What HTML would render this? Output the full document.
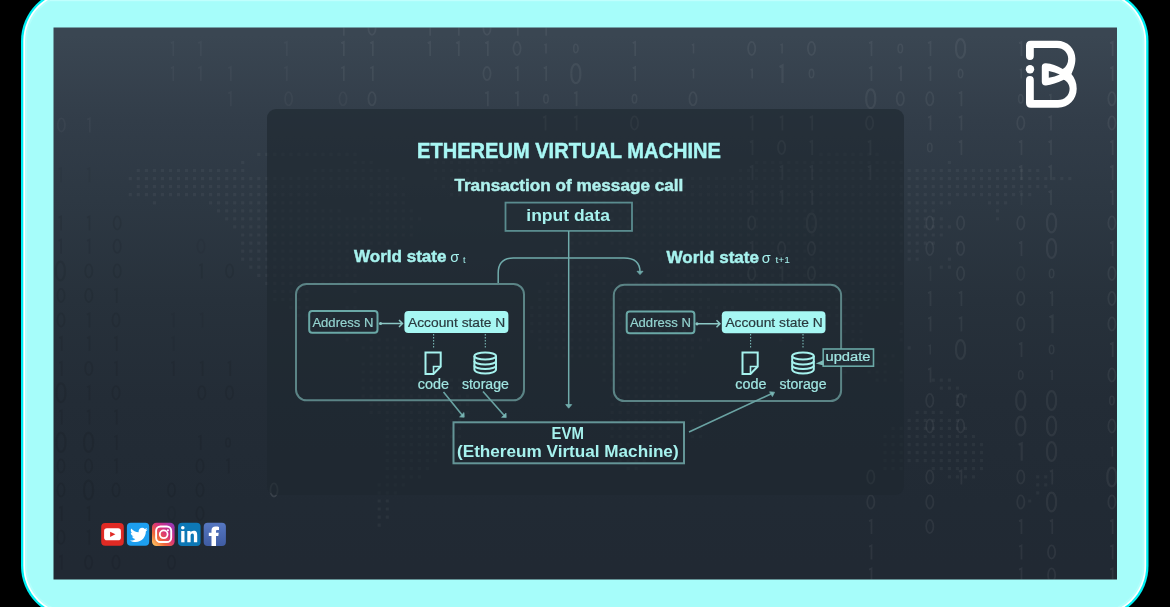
<!DOCTYPE html>
<html><head><meta charset="utf-8">
<style>
html,body{margin:0;padding:0;background:#000;width:1170px;height:607px;overflow:hidden;}
svg{display:block;position:absolute;left:0;top:0;will-change:transform;}
text{font-family:"Liberation Sans",sans-serif;}
</style></head>
<body>
<svg width="1170" height="607" viewBox="0 0 1170 607">
<defs>
  <linearGradient id="pg" x1="0" y1="0" x2="0" y2="1">
    <stop offset="0.0136" stop-color="#3a4652"/>
    <stop offset="0.168" stop-color="#323d49"/>
    <stop offset="0.3125" stop-color="#2d3843"/>
    <stop offset="0.494" stop-color="#27313b"/>
    <stop offset="0.675" stop-color="#232c36"/>
    <stop offset="0.865" stop-color="#212a34"/>
    <stop offset="0.974" stop-color="#212933"/>
  </linearGradient>
</defs>
<!-- frame -->
<rect x="21" y="-11" width="1127.5" height="629" rx="52" fill="#00eef2"/>
<rect x="23.3" y="-8.7" width="1122.9" height="624.4" rx="49.7" fill="#ffffff"/>
<rect x="25" y="-7" width="1119.5" height="621" rx="48" fill="#b2fffc"/>
<rect x="27" y="-5" width="1115.5" height="617" rx="46" fill="#a6fdfa"/>
<rect x="50" y="0" width="1070" height="1.2" fill="#c0fffd"/>
<!-- panel -->
<rect x="53.5" y="27.5" width="1063.5" height="552" fill="url(#pg)"/>
<g id="bgtex">
<clipPath id="pc"><rect x="53.5" y="27.5" width="1063.5" height="552"/></clipPath>
<g clip-path="url(#pc)">
<path fill="none" stroke="#fff" stroke-opacity="0.110" stroke-width="1.80" d="M867.2 477.0a3.6 6.6 0 1 0 7.2 0a3.6 6.6 0 1 0 -7.2 0M270.4 490.0a3.6 6.6 0 1 0 7.2 0a3.6 6.6 0 1 0 -7.2 0M749.9 117.6L752.5 116.4V130.5M779.8 117.6L782.4 116.4V130.5M809.7 117.6L812.2 116.4V130.5M866.0 123.0a3.6 6.6 0 1 0 7.2 0a3.6 6.6 0 1 0 -7.2 0M543.0 117.6L545.5 116.4V130.5M574.1 117.6L576.6 116.4V130.5M630.9 123.0a3.6 6.6 0 1 0 7.2 0a3.6 6.6 0 1 0 -7.2 0M749.9 142.1L752.5 140.9V155.0M778.0 147.5a3.6 6.6 0 1 0 7.2 0a3.6 6.6 0 1 0 -7.2 0M809.7 142.1L812.2 140.9V155.0M867.8 142.1L870.4 140.9V155.0M778.0 147.5a3.6 6.6 0 1 0 7.2 0a3.6 6.6 0 1 0 -7.2 0M809.7 142.1L812.2 140.9V155.0M749.9 167.1L752.5 165.9V180.0M779.8 167.1L782.4 165.9V180.0M809.7 167.1L812.2 165.9V180.0M867.8 167.1L870.4 165.9V180.0M749.9 192.1L752.5 190.9V205.0M779.8 192.1L782.4 190.9V205.0M809.7 192.1L812.2 190.9V205.0M748.1 223.0a3.6 6.6 0 1 0 7.2 0a3.6 6.6 0 1 0 -7.2 0M749.9 243.1L752.5 241.9V256.0M778.0 248.5a3.6 6.6 0 1 0 7.2 0a3.6 6.6 0 1 0 -7.2 0M807.9 248.5a3.6 6.6 0 1 0 7.2 0a3.6 6.6 0 1 0 -7.2 0M748.1 273.5a3.6 6.6 0 1 0 7.2 0a3.6 6.6 0 1 0 -7.2 0M779.8 268.1L782.4 266.9V281.0M807.9 273.5a3.6 6.6 0 1 0 7.2 0a3.6 6.6 0 1 0 -7.2 0"/>
<path fill="none" stroke="#fff" stroke-opacity="0.110" stroke-width="2.23" d="M807.0 223.0a4.5 8.2 0 1 0 8.9 0a4.5 8.2 0 1 0 -8.9 0"/>
<path fill="none" stroke="#fff" stroke-opacity="0.060" stroke-width="1.80" d="M341.2 22.8L343.8 21.6V35.7M368.4 28.2a3.6 6.6 0 1 0 7.2 0a3.6 6.6 0 1 0 -7.2 0M427.7 22.8L430.2 21.6V35.7M456.2 22.8L458.8 21.6V35.7M483.4 28.2a3.6 6.6 0 1 0 7.2 0a3.6 6.6 0 1 0 -7.2 0M515.2 22.8L517.8 21.6V35.7M543.7 22.8L546.2 21.6V35.7M341.2 43.1L343.8 41.9V56.0M370.2 43.1L372.8 41.9V56.0M427.7 43.1L430.2 41.9V56.0M456.2 43.1L458.8 41.9V56.0M485.2 43.1L487.8 41.9V56.0M513.4 48.5a3.6 6.6 0 1 0 7.2 0a3.6 6.6 0 1 0 -7.2 0M632.7 43.1L635.2 41.9V56.0M748.1 48.5a3.6 6.6 0 1 0 7.2 0a3.6 6.6 0 1 0 -7.2 0M807.9 48.5a3.6 6.6 0 1 0 7.2 0a3.6 6.6 0 1 0 -7.2 0M869.0 43.1L871.5 41.9V56.0M928.0 43.1L930.5 41.9V56.0M1019.0 43.1L1021.5 41.9V56.0M1110.1 43.1L1112.7 41.9V56.0M341.2 68.2L343.8 67.0V81.1M370.2 68.2L372.8 67.0V81.1M483.4 73.6a3.6 6.6 0 1 0 7.2 0a3.6 6.6 0 1 0 -7.2 0M515.2 68.2L517.8 67.0V81.1M543.7 68.2L546.2 67.0V81.1M632.7 68.2L635.2 67.0V81.1M869.0 68.2L871.5 67.0V81.1M898.5 68.2L901.0 67.0V81.1M928.0 68.2L930.5 67.0V81.1M1110.1 68.2L1112.7 67.0V81.1M368.4 98.8a3.6 6.6 0 1 0 7.2 0a3.6 6.6 0 1 0 -7.2 0M485.2 93.4L487.8 92.2V106.3M515.2 93.4L517.8 92.2V106.3M574.1 93.4L576.6 92.2V106.3M689.4 98.8a3.6 6.6 0 1 0 7.2 0a3.6 6.6 0 1 0 -7.2 0M896.7 98.8a3.6 6.6 0 1 0 7.2 0a3.6 6.6 0 1 0 -7.2 0M926.2 98.8a3.6 6.6 0 1 0 7.2 0a3.6 6.6 0 1 0 -7.2 0M958.8 93.4L961.4 92.2V106.3M1108.3 98.8a3.6 6.6 0 1 0 7.2 0a3.6 6.6 0 1 0 -7.2 0M928.0 117.6L930.5 116.4V130.5M958.8 117.6L961.4 116.4V130.5M1017.2 123.0a3.6 6.6 0 1 0 7.2 0a3.6 6.6 0 1 0 -7.2 0M1048.5 117.6L1051.0 116.4V130.5M1108.3 123.0a3.6 6.6 0 1 0 7.2 0a3.6 6.6 0 1 0 -7.2 0M958.8 142.1L961.4 140.9V155.0M1019.0 142.1L1021.5 140.9V155.0M1048.5 142.1L1051.0 140.9V155.0M1110.1 142.1L1112.7 140.9V155.0M1019.0 167.1L1021.5 165.9V180.0M1048.5 167.1L1051.0 165.9V180.0M1110.1 167.1L1112.7 165.9V180.0M1048.5 192.1L1051.0 190.9V205.0M1110.1 192.1L1112.7 190.9V205.0M926.2 223.0a3.6 6.6 0 1 0 7.2 0a3.6 6.6 0 1 0 -7.2 0M957.0 223.0a3.6 6.6 0 1 0 7.2 0a3.6 6.6 0 1 0 -7.2 0M1017.2 223.0a3.6 6.6 0 1 0 7.2 0a3.6 6.6 0 1 0 -7.2 0M1108.3 223.0a3.6 6.6 0 1 0 7.2 0a3.6 6.6 0 1 0 -7.2 0M926.2 248.5a3.6 6.6 0 1 0 7.2 0a3.6 6.6 0 1 0 -7.2 0M957.0 248.5a3.6 6.6 0 1 0 7.2 0a3.6 6.6 0 1 0 -7.2 0M1019.0 243.1L1021.5 241.9V256.0M1110.1 243.1L1112.7 241.9V256.0M957.0 273.5a3.6 6.6 0 1 0 7.2 0a3.6 6.6 0 1 0 -7.2 0M1108.3 273.5a3.6 6.6 0 1 0 7.2 0a3.6 6.6 0 1 0 -7.2 0M928.0 293.1L930.5 291.9V306.0M958.8 293.1L961.4 291.9V306.0M1017.2 298.5a3.6 6.6 0 1 0 7.2 0a3.6 6.6 0 1 0 -7.2 0M1049.8 293.1L1052.3 291.9V306.0M1108.3 298.5a3.6 6.6 0 1 0 7.2 0a3.6 6.6 0 1 0 -7.2 0M928.0 318.6L930.5 317.4V331.5M958.8 318.6L961.4 317.4V331.5M1017.2 324.0a3.6 6.6 0 1 0 7.2 0a3.6 6.6 0 1 0 -7.2 0M1108.3 324.0a3.6 6.6 0 1 0 7.2 0a3.6 6.6 0 1 0 -7.2 0M1019.0 344.1L1021.5 342.9V357.0M1110.1 344.1L1112.7 342.9V357.0M928.0 369.6L930.5 368.4V382.5M1108.3 375.0a3.6 6.6 0 1 0 7.2 0a3.6 6.6 0 1 0 -7.2 0M926.2 400.5a3.6 6.6 0 1 0 7.2 0a3.6 6.6 0 1 0 -7.2 0M957.0 400.5a3.6 6.6 0 1 0 7.2 0a3.6 6.6 0 1 0 -7.2 0M926.2 426.0a3.6 6.6 0 1 0 7.2 0a3.6 6.6 0 1 0 -7.2 0M957.0 426.0a3.6 6.6 0 1 0 7.2 0a3.6 6.6 0 1 0 -7.2 0M1108.3 426.0a3.6 6.6 0 1 0 7.2 0a3.6 6.6 0 1 0 -7.2 0M926.2 477.0a3.6 6.6 0 1 0 7.2 0a3.6 6.6 0 1 0 -7.2 0M958.8 471.6L961.4 470.4V484.5M1017.2 477.0a3.6 6.6 0 1 0 7.2 0a3.6 6.6 0 1 0 -7.2 0M1049.8 471.6L1052.3 470.4V484.5M867.2 502.0a3.6 6.6 0 1 0 7.2 0a3.6 6.6 0 1 0 -7.2 0M926.2 502.0a3.6 6.6 0 1 0 7.2 0a3.6 6.6 0 1 0 -7.2 0M1017.2 502.0a3.6 6.6 0 1 0 7.2 0a3.6 6.6 0 1 0 -7.2 0M1108.3 502.0a3.6 6.6 0 1 0 7.2 0a3.6 6.6 0 1 0 -7.2 0M869.0 521.1L871.5 519.9V534.0M926.2 526.5a3.6 6.6 0 1 0 7.2 0a3.6 6.6 0 1 0 -7.2 0M1019.0 521.1L1021.5 519.9V534.0M1049.8 521.1L1052.3 519.9V534.0M1110.1 521.1L1112.7 519.9V534.0M869.0 546.6L871.5 545.4V559.5M1019.0 546.6L1021.5 545.4V559.5M1048.0 552.0a3.6 6.6 0 1 0 7.2 0a3.6 6.6 0 1 0 -7.2 0M1110.1 546.6L1112.7 545.4V559.5M869.0 569.6L871.5 568.4V582.5M1019.0 569.6L1021.5 568.4V582.5M1048.0 575.0a3.6 6.6 0 1 0 7.2 0a3.6 6.6 0 1 0 -7.2 0M1110.1 569.6L1112.7 568.4V582.5"/>
<path fill="none" stroke="#fff" stroke-opacity="0.060" stroke-width="1.60" d="M544.3 44.9L546.0 44.3V53.5M573.7 48.5a2.2 4.2 0 1 0 4.4 0a2.2 4.2 0 1 0 -4.4 0M691.8 44.9L693.5 44.3V53.5M780.4 44.9L782.1 44.3V53.5M898.1 48.5a2.2 4.2 0 1 0 4.4 0a2.2 4.2 0 1 0 -4.4 0M691.8 70.0L693.5 69.4V78.6M750.5 70.0L752.2 69.4V78.6M809.3 73.6a2.2 4.2 0 1 0 4.4 0a2.2 4.2 0 1 0 -4.4 0M958.4 73.6a2.2 4.2 0 1 0 4.4 0a2.2 4.2 0 1 0 -4.4 0M1019.6 70.0L1021.3 69.4V78.6M543.8 98.8a2.2 4.2 0 1 0 4.4 0a2.2 4.2 0 1 0 -4.4 0M632.3 98.8a2.2 4.2 0 1 0 4.4 0a2.2 4.2 0 1 0 -4.4 0M1018.6 98.8a2.2 4.2 0 1 0 4.4 0a2.2 4.2 0 1 0 -4.4 0M1049.1 95.2L1050.8 94.6V103.8M927.6 147.5a2.2 4.2 0 1 0 4.4 0a2.2 4.2 0 1 0 -4.4 0M1049.4 273.5a2.2 4.2 0 1 0 4.4 0a2.2 4.2 0 1 0 -4.4 0M928.6 345.9L930.3 345.3V354.5M1049.4 349.5a2.2 4.2 0 1 0 4.4 0a2.2 4.2 0 1 0 -4.4 0M1018.6 375.0a2.2 4.2 0 1 0 4.4 0a2.2 4.2 0 1 0 -4.4 0M1050.4 371.4L1052.1 370.8V380.0M1109.7 400.5a2.2 4.2 0 1 0 4.4 0a2.2 4.2 0 1 0 -4.4 0M1110.7 447.9L1112.4 447.3V456.5"/>
<path fill="none" stroke="#fff" stroke-opacity="0.060" stroke-width="2.23" d="M956.1 48.5a4.5 8.2 0 1 0 8.9 0a4.5 8.2 0 1 0 -8.9 0M571.4 73.6a4.5 8.2 0 1 0 8.9 0a4.5 8.2 0 1 0 -8.9 0M779.4 66.9L782.5 65.4V82.9M866.3 98.8a4.5 8.2 0 1 0 8.9 0a4.5 8.2 0 1 0 -8.9 0M1047.1 223.0a4.5 8.2 0 1 0 8.9 0a4.5 8.2 0 1 0 -8.9 0M1047.1 248.5a4.5 8.2 0 1 0 8.9 0a4.5 8.2 0 1 0 -8.9 0M1049.4 317.3L1052.5 315.8V333.3M956.1 349.5a4.5 8.2 0 1 0 8.9 0a4.5 8.2 0 1 0 -8.9 0M1016.3 400.5a4.5 8.2 0 1 0 8.9 0a4.5 8.2 0 1 0 -8.9 0M1047.1 400.5a4.5 8.2 0 1 0 8.9 0a4.5 8.2 0 1 0 -8.9 0M1016.3 426.0a4.5 8.2 0 1 0 8.9 0a4.5 8.2 0 1 0 -8.9 0M1047.1 426.0a4.5 8.2 0 1 0 8.9 0a4.5 8.2 0 1 0 -8.9 0M1018.6 444.8L1021.7 443.3V460.8M1047.1 451.5a4.5 8.2 0 1 0 8.9 0a4.5 8.2 0 1 0 -8.9 0M1107.4 477.0a4.5 8.2 0 1 0 8.9 0a4.5 8.2 0 1 0 -8.9 0M1047.1 502.0a4.5 8.2 0 1 0 8.9 0a4.5 8.2 0 1 0 -8.9 0"/>
<path fill="none" stroke="#fff" stroke-opacity="0.035" stroke-width="1.80" d="M284.2 43.1L286.8 41.9V56.0M170.8 43.1L173.3 41.9V56.0M198.2 43.1L200.8 41.9V56.0M284.2 68.2L286.8 67.0V81.1M170.8 68.2L173.3 67.0V81.1M198.2 68.2L200.8 67.0V81.1M228.2 68.2L230.8 67.0V81.1M285.0 98.8a3.6 6.6 0 1 0 7.2 0a3.6 6.6 0 1 0 -7.2 0M339.4 98.8a3.6 6.6 0 1 0 7.2 0a3.6 6.6 0 1 0 -7.2 0M228.2 93.4L230.8 92.2V106.3M57.8 125.0a3.6 6.6 0 1 0 7.2 0a3.6 6.6 0 1 0 -7.2 0M87.2 119.6L89.8 118.4V132.5M1019.0 192.1L1021.5 190.9V205.0M928.0 268.1L930.5 266.9V281.0M1017.2 273.5a3.6 6.6 0 1 0 7.2 0a3.6 6.6 0 1 0 -7.2 0"/>
<path fill="none" stroke="#000" stroke-opacity="0.080" stroke-width="1.80" d="M58.6 217.6L61.1 216.4V230.5M87.0 217.6L89.5 216.4V230.5M113.6 223.0a3.6 6.6 0 1 0 7.2 0a3.6 6.6 0 1 0 -7.2 0M58.6 240.9L61.1 239.7V253.8M87.0 240.9L89.5 239.7V253.8M113.6 246.3a3.6 6.6 0 1 0 7.2 0a3.6 6.6 0 1 0 -7.2 0M85.2 271.0a3.6 6.6 0 1 0 7.2 0a3.6 6.6 0 1 0 -7.2 0M113.6 271.0a3.6 6.6 0 1 0 7.2 0a3.6 6.6 0 1 0 -7.2 0M199.2 265.6L201.8 264.4V278.5M226.0 271.0a3.6 6.6 0 1 0 7.2 0a3.6 6.6 0 1 0 -7.2 0M57.4 295.5a3.6 6.6 0 1 0 7.2 0a3.6 6.6 0 1 0 -7.2 0M85.2 295.5a3.6 6.6 0 1 0 7.2 0a3.6 6.6 0 1 0 -7.2 0M114.2 290.1L116.8 288.9V303.0M57.4 320.0a3.6 6.6 0 1 0 7.2 0a3.6 6.6 0 1 0 -7.2 0M87.0 314.6L89.5 313.4V327.5M112.4 320.0a3.6 6.6 0 1 0 7.2 0a3.6 6.6 0 1 0 -7.2 0M59.2 338.1L61.8 336.9V351.0M87.0 338.1L89.5 336.9V351.0M114.2 338.1L116.8 336.9V351.0M59.2 363.0L61.8 361.8V375.9M85.2 368.4a3.6 6.6 0 1 0 7.2 0a3.6 6.6 0 1 0 -7.2 0M114.2 363.0L116.8 361.8V375.9M171.2 363.0L173.8 361.8V375.9M200.0 363.0L202.6 361.8V375.9M227.7 363.0L230.2 361.8V375.9M87.0 387.3L89.5 386.1V400.2M112.4 392.7a3.6 6.6 0 1 0 7.2 0a3.6 6.6 0 1 0 -7.2 0M198.2 392.7a3.6 6.6 0 1 0 7.2 0a3.6 6.6 0 1 0 -7.2 0M225.9 392.7a3.6 6.6 0 1 0 7.2 0a3.6 6.6 0 1 0 -7.2 0M59.2 411.6L61.8 410.4V424.5M87.0 411.6L89.5 410.4V424.5M114.2 411.6L116.8 410.4V424.5M114.2 437.0L116.8 435.8V449.9M198.2 437.0L200.8 435.8V449.9M57.4 466.0a3.6 6.6 0 1 0 7.2 0a3.6 6.6 0 1 0 -7.2 0M85.0 466.0a3.6 6.6 0 1 0 7.2 0a3.6 6.6 0 1 0 -7.2 0M114.2 460.6L116.8 459.4V473.5M196.4 466.0a3.6 6.6 0 1 0 7.2 0a3.6 6.6 0 1 0 -7.2 0M226.2 460.6L228.8 459.4V473.5M57.4 490.0a3.6 6.6 0 1 0 7.2 0a3.6 6.6 0 1 0 -7.2 0M112.4 490.0a3.6 6.6 0 1 0 7.2 0a3.6 6.6 0 1 0 -7.2 0M167.9 490.0a3.6 6.6 0 1 0 7.2 0a3.6 6.6 0 1 0 -7.2 0M196.4 490.0a3.6 6.6 0 1 0 7.2 0a3.6 6.6 0 1 0 -7.2 0M59.2 508.1L61.8 506.9V521.0M86.8 508.1L89.3 506.9V521.0M196.4 513.5a3.6 6.6 0 1 0 7.2 0a3.6 6.6 0 1 0 -7.2 0M57.4 537.2a3.6 6.6 0 1 0 7.2 0a3.6 6.6 0 1 0 -7.2 0M86.8 531.8L89.3 530.6V544.7M59.2 556.9L61.8 555.7V569.8M85.0 562.3a3.6 6.6 0 1 0 7.2 0a3.6 6.6 0 1 0 -7.2 0M112.4 562.3a3.6 6.6 0 1 0 7.2 0a3.6 6.6 0 1 0 -7.2 0M167.9 562.3a3.6 6.6 0 1 0 7.2 0a3.6 6.6 0 1 0 -7.2 0"/>
<path fill="none" stroke="#000" stroke-opacity="0.080" stroke-width="2.23" d="M55.9 271.0a4.5 8.2 0 1 0 8.9 0a4.5 8.2 0 1 0 -8.9 0M56.5 392.7a4.5 8.2 0 1 0 8.9 0a4.5 8.2 0 1 0 -8.9 0M56.5 442.4a4.5 8.2 0 1 0 8.9 0a4.5 8.2 0 1 0 -8.9 0M84.1 442.4a4.5 8.2 0 1 0 8.9 0a4.5 8.2 0 1 0 -8.9 0M84.1 490.0a4.5 8.2 0 1 0 8.9 0a4.5 8.2 0 1 0 -8.9 0"/>
<path fill="none" stroke="#000" stroke-opacity="0.080" stroke-width="1.60" d="M225.8 442.4a2.2 4.2 0 1 0 4.4 0a2.2 4.2 0 1 0 -4.4 0"/>
<path fill="none" stroke="#000" stroke-opacity="0.045" stroke-width="1.80" d="M58.6 169.3L61.1 168.1V182.2M87.0 169.3L89.5 168.1V182.2M197.4 246.3a3.6 6.6 0 1 0 7.2 0a3.6 6.6 0 1 0 -7.2 0M171.2 314.6L173.8 313.4V327.5M200.0 314.6L202.6 313.4V327.5M171.2 338.1L173.8 336.9V351.0M167.9 513.5a3.6 6.6 0 1 0 7.2 0a3.6 6.6 0 1 0 -7.2 0"/>
</g>
<path fill="#fff" fill-opacity="0.045" d="M257.2 152.8h3.2v3.2h-3.2zM265.2 152.8h3.2v3.2h-3.2zM273.2 152.8h3.2v3.2h-3.2zM281.3 152.8h3.2v3.2h-3.2zM289.3 152.8h3.2v3.2h-3.2zM297.3 152.8h3.2v3.2h-3.2zM305.4 152.8h3.2v3.2h-3.2zM313.4 152.8h3.2v3.2h-3.2zM321.4 152.8h3.2v3.2h-3.2zM329.4 152.8h3.2v3.2h-3.2zM337.5 152.8h3.2v3.2h-3.2zM345.5 152.8h3.2v3.2h-3.2zM353.5 152.8h3.2v3.2h-3.2zM417.8 152.8h3.2v3.2h-3.2zM425.8 152.8h3.2v3.2h-3.2zM433.8 152.8h3.2v3.2h-3.2zM441.9 152.8h3.2v3.2h-3.2zM449.9 152.8h3.2v3.2h-3.2zM457.9 152.8h3.2v3.2h-3.2zM466.0 152.8h3.2v3.2h-3.2zM474.0 152.8h3.2v3.2h-3.2zM482.0 152.8h3.2v3.2h-3.2zM490.0 152.8h3.2v3.2h-3.2zM498.1 152.8h3.2v3.2h-3.2zM506.1 152.8h3.2v3.2h-3.2zM514.1 152.8h3.2v3.2h-3.2zM522.2 152.8h3.2v3.2h-3.2zM819.3 152.8h3.2v3.2h-3.2zM827.3 152.8h3.2v3.2h-3.2zM835.3 152.8h3.2v3.2h-3.2zM843.4 152.8h3.2v3.2h-3.2zM851.4 152.8h3.2v3.2h-3.2zM859.4 152.8h3.2v3.2h-3.2zM867.5 152.8h3.2v3.2h-3.2zM875.5 152.8h3.2v3.2h-3.2zM241.1 160.9h3.2v3.2h-3.2zM353.5 160.9h3.2v3.2h-3.2zM361.6 160.9h3.2v3.2h-3.2zM369.6 160.9h3.2v3.2h-3.2zM425.8 160.9h3.2v3.2h-3.2zM433.8 160.9h3.2v3.2h-3.2zM441.9 160.9h3.2v3.2h-3.2zM449.9 160.9h3.2v3.2h-3.2zM457.9 160.9h3.2v3.2h-3.2zM466.0 160.9h3.2v3.2h-3.2zM474.0 160.9h3.2v3.2h-3.2zM482.0 160.9h3.2v3.2h-3.2zM490.0 160.9h3.2v3.2h-3.2zM498.1 160.9h3.2v3.2h-3.2zM506.1 160.9h3.2v3.2h-3.2zM514.1 160.9h3.2v3.2h-3.2zM755.0 160.9h3.2v3.2h-3.2zM763.1 160.9h3.2v3.2h-3.2zM771.1 160.9h3.2v3.2h-3.2zM779.1 160.9h3.2v3.2h-3.2zM787.2 160.9h3.2v3.2h-3.2zM795.2 160.9h3.2v3.2h-3.2zM803.2 160.9h3.2v3.2h-3.2zM811.2 160.9h3.2v3.2h-3.2zM819.3 160.9h3.2v3.2h-3.2zM827.3 160.9h3.2v3.2h-3.2zM835.3 160.9h3.2v3.2h-3.2zM843.4 160.9h3.2v3.2h-3.2zM851.4 160.9h3.2v3.2h-3.2zM859.4 160.9h3.2v3.2h-3.2zM867.5 160.9h3.2v3.2h-3.2zM875.5 160.9h3.2v3.2h-3.2zM883.5 160.9h3.2v3.2h-3.2zM891.5 160.9h3.2v3.2h-3.2zM899.6 160.9h3.2v3.2h-3.2zM947.8 160.9h3.2v3.2h-3.2zM136.7 168.9h3.2v3.2h-3.2zM144.8 168.9h3.2v3.2h-3.2zM152.8 168.9h3.2v3.2h-3.2zM160.8 168.9h3.2v3.2h-3.2zM168.9 168.9h3.2v3.2h-3.2zM176.9 168.9h3.2v3.2h-3.2zM184.9 168.9h3.2v3.2h-3.2zM192.9 168.9h3.2v3.2h-3.2zM201.0 168.9h3.2v3.2h-3.2zM209.0 168.9h3.2v3.2h-3.2zM217.0 168.9h3.2v3.2h-3.2zM225.1 168.9h3.2v3.2h-3.2zM233.1 168.9h3.2v3.2h-3.2zM241.1 168.9h3.2v3.2h-3.2zM313.4 168.9h3.2v3.2h-3.2zM321.4 168.9h3.2v3.2h-3.2zM329.4 168.9h3.2v3.2h-3.2zM337.5 168.9h3.2v3.2h-3.2zM345.5 168.9h3.2v3.2h-3.2zM353.5 168.9h3.2v3.2h-3.2zM361.6 168.9h3.2v3.2h-3.2zM369.6 168.9h3.2v3.2h-3.2zM377.6 168.9h3.2v3.2h-3.2zM385.7 168.9h3.2v3.2h-3.2zM433.8 168.9h3.2v3.2h-3.2zM441.9 168.9h3.2v3.2h-3.2zM449.9 168.9h3.2v3.2h-3.2zM457.9 168.9h3.2v3.2h-3.2zM466.0 168.9h3.2v3.2h-3.2zM474.0 168.9h3.2v3.2h-3.2zM482.0 168.9h3.2v3.2h-3.2zM490.0 168.9h3.2v3.2h-3.2zM498.1 168.9h3.2v3.2h-3.2zM626.6 168.9h3.2v3.2h-3.2zM634.6 168.9h3.2v3.2h-3.2zM642.6 168.9h3.2v3.2h-3.2zM650.6 168.9h3.2v3.2h-3.2zM658.7 168.9h3.2v3.2h-3.2zM739.0 168.9h3.2v3.2h-3.2zM747.0 168.9h3.2v3.2h-3.2zM755.0 168.9h3.2v3.2h-3.2zM763.1 168.9h3.2v3.2h-3.2zM771.1 168.9h3.2v3.2h-3.2zM779.1 168.9h3.2v3.2h-3.2zM787.2 168.9h3.2v3.2h-3.2zM795.2 168.9h3.2v3.2h-3.2zM803.2 168.9h3.2v3.2h-3.2zM811.2 168.9h3.2v3.2h-3.2zM819.3 168.9h3.2v3.2h-3.2zM827.3 168.9h3.2v3.2h-3.2zM835.3 168.9h3.2v3.2h-3.2zM843.4 168.9h3.2v3.2h-3.2zM851.4 168.9h3.2v3.2h-3.2zM859.4 168.9h3.2v3.2h-3.2zM867.5 168.9h3.2v3.2h-3.2zM875.5 168.9h3.2v3.2h-3.2zM883.5 168.9h3.2v3.2h-3.2zM891.5 168.9h3.2v3.2h-3.2zM899.6 168.9h3.2v3.2h-3.2zM907.6 168.9h3.2v3.2h-3.2zM915.6 168.9h3.2v3.2h-3.2zM923.7 168.9h3.2v3.2h-3.2zM931.7 168.9h3.2v3.2h-3.2zM939.7 168.9h3.2v3.2h-3.2zM947.8 168.9h3.2v3.2h-3.2zM955.8 168.9h3.2v3.2h-3.2zM963.8 168.9h3.2v3.2h-3.2zM971.9 168.9h3.2v3.2h-3.2zM979.9 168.9h3.2v3.2h-3.2zM987.9 168.9h3.2v3.2h-3.2zM995.9 168.9h3.2v3.2h-3.2zM1004.0 168.9h3.2v3.2h-3.2zM1012.0 168.9h3.2v3.2h-3.2zM1020.0 168.9h3.2v3.2h-3.2zM1028.1 168.9h3.2v3.2h-3.2zM1036.1 168.9h3.2v3.2h-3.2zM128.7 177.0h3.2v3.2h-3.2zM136.7 177.0h3.2v3.2h-3.2zM144.8 177.0h3.2v3.2h-3.2zM152.8 177.0h3.2v3.2h-3.2zM160.8 177.0h3.2v3.2h-3.2zM168.9 177.0h3.2v3.2h-3.2zM176.9 177.0h3.2v3.2h-3.2zM184.9 177.0h3.2v3.2h-3.2zM192.9 177.0h3.2v3.2h-3.2zM201.0 177.0h3.2v3.2h-3.2zM209.0 177.0h3.2v3.2h-3.2zM217.0 177.0h3.2v3.2h-3.2zM225.1 177.0h3.2v3.2h-3.2zM233.1 177.0h3.2v3.2h-3.2zM241.1 177.0h3.2v3.2h-3.2zM249.2 177.0h3.2v3.2h-3.2zM257.2 177.0h3.2v3.2h-3.2zM265.2 177.0h3.2v3.2h-3.2zM273.2 177.0h3.2v3.2h-3.2zM281.3 177.0h3.2v3.2h-3.2zM289.3 177.0h3.2v3.2h-3.2zM297.3 177.0h3.2v3.2h-3.2zM305.4 177.0h3.2v3.2h-3.2zM313.4 177.0h3.2v3.2h-3.2zM321.4 177.0h3.2v3.2h-3.2zM329.4 177.0h3.2v3.2h-3.2zM337.5 177.0h3.2v3.2h-3.2zM345.5 177.0h3.2v3.2h-3.2zM353.5 177.0h3.2v3.2h-3.2zM361.6 177.0h3.2v3.2h-3.2zM369.6 177.0h3.2v3.2h-3.2zM377.6 177.0h3.2v3.2h-3.2zM385.7 177.0h3.2v3.2h-3.2zM393.7 177.0h3.2v3.2h-3.2zM401.7 177.0h3.2v3.2h-3.2zM433.8 177.0h3.2v3.2h-3.2zM441.9 177.0h3.2v3.2h-3.2zM449.9 177.0h3.2v3.2h-3.2zM457.9 177.0h3.2v3.2h-3.2zM466.0 177.0h3.2v3.2h-3.2zM474.0 177.0h3.2v3.2h-3.2zM610.5 177.0h3.2v3.2h-3.2zM618.5 177.0h3.2v3.2h-3.2zM626.6 177.0h3.2v3.2h-3.2zM634.6 177.0h3.2v3.2h-3.2zM642.6 177.0h3.2v3.2h-3.2zM650.6 177.0h3.2v3.2h-3.2zM658.7 177.0h3.2v3.2h-3.2zM666.7 177.0h3.2v3.2h-3.2zM674.7 177.0h3.2v3.2h-3.2zM682.8 177.0h3.2v3.2h-3.2zM690.8 177.0h3.2v3.2h-3.2zM698.8 177.0h3.2v3.2h-3.2zM706.9 177.0h3.2v3.2h-3.2zM714.9 177.0h3.2v3.2h-3.2zM722.9 177.0h3.2v3.2h-3.2zM730.9 177.0h3.2v3.2h-3.2zM739.0 177.0h3.2v3.2h-3.2zM747.0 177.0h3.2v3.2h-3.2zM755.0 177.0h3.2v3.2h-3.2zM763.1 177.0h3.2v3.2h-3.2zM771.1 177.0h3.2v3.2h-3.2zM779.1 177.0h3.2v3.2h-3.2zM787.2 177.0h3.2v3.2h-3.2zM795.2 177.0h3.2v3.2h-3.2zM803.2 177.0h3.2v3.2h-3.2zM811.2 177.0h3.2v3.2h-3.2zM819.3 177.0h3.2v3.2h-3.2zM827.3 177.0h3.2v3.2h-3.2zM835.3 177.0h3.2v3.2h-3.2zM843.4 177.0h3.2v3.2h-3.2zM851.4 177.0h3.2v3.2h-3.2zM859.4 177.0h3.2v3.2h-3.2zM867.5 177.0h3.2v3.2h-3.2zM875.5 177.0h3.2v3.2h-3.2zM883.5 177.0h3.2v3.2h-3.2zM891.5 177.0h3.2v3.2h-3.2zM899.6 177.0h3.2v3.2h-3.2zM907.6 177.0h3.2v3.2h-3.2zM915.6 177.0h3.2v3.2h-3.2zM923.7 177.0h3.2v3.2h-3.2zM931.7 177.0h3.2v3.2h-3.2zM939.7 177.0h3.2v3.2h-3.2zM947.8 177.0h3.2v3.2h-3.2zM955.8 177.0h3.2v3.2h-3.2zM963.8 177.0h3.2v3.2h-3.2zM971.9 177.0h3.2v3.2h-3.2zM979.9 177.0h3.2v3.2h-3.2zM987.9 177.0h3.2v3.2h-3.2zM995.9 177.0h3.2v3.2h-3.2zM1004.0 177.0h3.2v3.2h-3.2zM1012.0 177.0h3.2v3.2h-3.2zM1020.0 177.0h3.2v3.2h-3.2zM1028.1 177.0h3.2v3.2h-3.2zM1036.1 177.0h3.2v3.2h-3.2zM1044.1 177.0h3.2v3.2h-3.2zM1052.2 177.0h3.2v3.2h-3.2zM1060.2 177.0h3.2v3.2h-3.2zM1068.2 177.0h3.2v3.2h-3.2zM136.7 185.0h3.2v3.2h-3.2zM144.8 185.0h3.2v3.2h-3.2zM152.8 185.0h3.2v3.2h-3.2zM160.8 185.0h3.2v3.2h-3.2zM168.9 185.0h3.2v3.2h-3.2zM176.9 185.0h3.2v3.2h-3.2zM184.9 185.0h3.2v3.2h-3.2zM192.9 185.0h3.2v3.2h-3.2zM201.0 185.0h3.2v3.2h-3.2zM209.0 185.0h3.2v3.2h-3.2zM217.0 185.0h3.2v3.2h-3.2zM225.1 185.0h3.2v3.2h-3.2zM233.1 185.0h3.2v3.2h-3.2zM241.1 185.0h3.2v3.2h-3.2zM249.2 185.0h3.2v3.2h-3.2zM257.2 185.0h3.2v3.2h-3.2zM265.2 185.0h3.2v3.2h-3.2zM273.2 185.0h3.2v3.2h-3.2zM281.3 185.0h3.2v3.2h-3.2zM289.3 185.0h3.2v3.2h-3.2zM297.3 185.0h3.2v3.2h-3.2zM305.4 185.0h3.2v3.2h-3.2zM313.4 185.0h3.2v3.2h-3.2zM321.4 185.0h3.2v3.2h-3.2zM329.4 185.0h3.2v3.2h-3.2zM337.5 185.0h3.2v3.2h-3.2zM345.5 185.0h3.2v3.2h-3.2zM353.5 185.0h3.2v3.2h-3.2zM361.6 185.0h3.2v3.2h-3.2zM369.6 185.0h3.2v3.2h-3.2zM377.6 185.0h3.2v3.2h-3.2zM385.7 185.0h3.2v3.2h-3.2zM393.7 185.0h3.2v3.2h-3.2zM441.9 185.0h3.2v3.2h-3.2zM449.9 185.0h3.2v3.2h-3.2zM457.9 185.0h3.2v3.2h-3.2zM602.5 185.0h3.2v3.2h-3.2zM610.5 185.0h3.2v3.2h-3.2zM618.5 185.0h3.2v3.2h-3.2zM626.6 185.0h3.2v3.2h-3.2zM634.6 185.0h3.2v3.2h-3.2zM642.6 185.0h3.2v3.2h-3.2zM650.6 185.0h3.2v3.2h-3.2zM658.7 185.0h3.2v3.2h-3.2zM666.7 185.0h3.2v3.2h-3.2zM674.7 185.0h3.2v3.2h-3.2zM682.8 185.0h3.2v3.2h-3.2zM690.8 185.0h3.2v3.2h-3.2zM698.8 185.0h3.2v3.2h-3.2zM706.9 185.0h3.2v3.2h-3.2zM714.9 185.0h3.2v3.2h-3.2zM722.9 185.0h3.2v3.2h-3.2zM730.9 185.0h3.2v3.2h-3.2zM739.0 185.0h3.2v3.2h-3.2zM747.0 185.0h3.2v3.2h-3.2zM755.0 185.0h3.2v3.2h-3.2zM763.1 185.0h3.2v3.2h-3.2zM771.1 185.0h3.2v3.2h-3.2zM779.1 185.0h3.2v3.2h-3.2zM787.2 185.0h3.2v3.2h-3.2zM795.2 185.0h3.2v3.2h-3.2zM803.2 185.0h3.2v3.2h-3.2zM811.2 185.0h3.2v3.2h-3.2zM819.3 185.0h3.2v3.2h-3.2zM827.3 185.0h3.2v3.2h-3.2zM835.3 185.0h3.2v3.2h-3.2zM843.4 185.0h3.2v3.2h-3.2zM851.4 185.0h3.2v3.2h-3.2zM859.4 185.0h3.2v3.2h-3.2zM867.5 185.0h3.2v3.2h-3.2zM875.5 185.0h3.2v3.2h-3.2zM883.5 185.0h3.2v3.2h-3.2zM891.5 185.0h3.2v3.2h-3.2zM899.6 185.0h3.2v3.2h-3.2zM907.6 185.0h3.2v3.2h-3.2zM915.6 185.0h3.2v3.2h-3.2zM923.7 185.0h3.2v3.2h-3.2zM931.7 185.0h3.2v3.2h-3.2zM939.7 185.0h3.2v3.2h-3.2zM947.8 185.0h3.2v3.2h-3.2zM955.8 185.0h3.2v3.2h-3.2zM963.8 185.0h3.2v3.2h-3.2zM971.9 185.0h3.2v3.2h-3.2zM979.9 185.0h3.2v3.2h-3.2zM987.9 185.0h3.2v3.2h-3.2zM995.9 185.0h3.2v3.2h-3.2zM1004.0 185.0h3.2v3.2h-3.2zM1012.0 185.0h3.2v3.2h-3.2zM1020.0 185.0h3.2v3.2h-3.2zM1028.1 185.0h3.2v3.2h-3.2zM1036.1 185.0h3.2v3.2h-3.2zM1044.1 185.0h3.2v3.2h-3.2zM128.7 193.1h3.2v3.2h-3.2zM136.7 193.1h3.2v3.2h-3.2zM144.8 193.1h3.2v3.2h-3.2zM152.8 193.1h3.2v3.2h-3.2zM160.8 193.1h3.2v3.2h-3.2zM168.9 193.1h3.2v3.2h-3.2zM176.9 193.1h3.2v3.2h-3.2zM184.9 193.1h3.2v3.2h-3.2zM192.9 193.1h3.2v3.2h-3.2zM201.0 193.1h3.2v3.2h-3.2zM209.0 193.1h3.2v3.2h-3.2zM217.0 193.1h3.2v3.2h-3.2zM225.1 193.1h3.2v3.2h-3.2zM233.1 193.1h3.2v3.2h-3.2zM241.1 193.1h3.2v3.2h-3.2zM249.2 193.1h3.2v3.2h-3.2zM257.2 193.1h3.2v3.2h-3.2zM265.2 193.1h3.2v3.2h-3.2zM273.2 193.1h3.2v3.2h-3.2zM281.3 193.1h3.2v3.2h-3.2zM289.3 193.1h3.2v3.2h-3.2zM297.3 193.1h3.2v3.2h-3.2zM305.4 193.1h3.2v3.2h-3.2zM313.4 193.1h3.2v3.2h-3.2zM369.6 193.1h3.2v3.2h-3.2zM377.6 193.1h3.2v3.2h-3.2zM385.7 193.1h3.2v3.2h-3.2zM393.7 193.1h3.2v3.2h-3.2zM401.7 193.1h3.2v3.2h-3.2zM449.9 193.1h3.2v3.2h-3.2zM457.9 193.1h3.2v3.2h-3.2zM586.4 193.1h3.2v3.2h-3.2zM594.4 193.1h3.2v3.2h-3.2zM602.5 193.1h3.2v3.2h-3.2zM610.5 193.1h3.2v3.2h-3.2zM618.5 193.1h3.2v3.2h-3.2zM626.6 193.1h3.2v3.2h-3.2zM634.6 193.1h3.2v3.2h-3.2zM642.6 193.1h3.2v3.2h-3.2zM650.6 193.1h3.2v3.2h-3.2zM658.7 193.1h3.2v3.2h-3.2zM666.7 193.1h3.2v3.2h-3.2zM674.7 193.1h3.2v3.2h-3.2zM682.8 193.1h3.2v3.2h-3.2zM690.8 193.1h3.2v3.2h-3.2zM698.8 193.1h3.2v3.2h-3.2zM706.9 193.1h3.2v3.2h-3.2zM714.9 193.1h3.2v3.2h-3.2zM722.9 193.1h3.2v3.2h-3.2zM730.9 193.1h3.2v3.2h-3.2zM739.0 193.1h3.2v3.2h-3.2zM747.0 193.1h3.2v3.2h-3.2zM755.0 193.1h3.2v3.2h-3.2zM763.1 193.1h3.2v3.2h-3.2zM771.1 193.1h3.2v3.2h-3.2zM779.1 193.1h3.2v3.2h-3.2zM787.2 193.1h3.2v3.2h-3.2zM795.2 193.1h3.2v3.2h-3.2zM803.2 193.1h3.2v3.2h-3.2zM811.2 193.1h3.2v3.2h-3.2zM819.3 193.1h3.2v3.2h-3.2zM827.3 193.1h3.2v3.2h-3.2zM835.3 193.1h3.2v3.2h-3.2zM843.4 193.1h3.2v3.2h-3.2zM851.4 193.1h3.2v3.2h-3.2zM859.4 193.1h3.2v3.2h-3.2zM867.5 193.1h3.2v3.2h-3.2zM875.5 193.1h3.2v3.2h-3.2zM883.5 193.1h3.2v3.2h-3.2zM891.5 193.1h3.2v3.2h-3.2zM899.6 193.1h3.2v3.2h-3.2zM907.6 193.1h3.2v3.2h-3.2zM915.6 193.1h3.2v3.2h-3.2zM923.7 193.1h3.2v3.2h-3.2zM931.7 193.1h3.2v3.2h-3.2zM939.7 193.1h3.2v3.2h-3.2zM947.8 193.1h3.2v3.2h-3.2zM955.8 193.1h3.2v3.2h-3.2zM963.8 193.1h3.2v3.2h-3.2zM971.9 193.1h3.2v3.2h-3.2zM979.9 193.1h3.2v3.2h-3.2zM987.9 193.1h3.2v3.2h-3.2zM995.9 193.1h3.2v3.2h-3.2zM1004.0 193.1h3.2v3.2h-3.2zM1012.0 193.1h3.2v3.2h-3.2zM1020.0 193.1h3.2v3.2h-3.2zM1028.1 193.1h3.2v3.2h-3.2zM152.8 201.2h3.2v3.2h-3.2zM209.0 201.2h3.2v3.2h-3.2zM217.0 201.2h3.2v3.2h-3.2zM225.1 201.2h3.2v3.2h-3.2zM233.1 201.2h3.2v3.2h-3.2zM241.1 201.2h3.2v3.2h-3.2zM249.2 201.2h3.2v3.2h-3.2zM257.2 201.2h3.2v3.2h-3.2zM265.2 201.2h3.2v3.2h-3.2zM273.2 201.2h3.2v3.2h-3.2zM281.3 201.2h3.2v3.2h-3.2zM289.3 201.2h3.2v3.2h-3.2zM297.3 201.2h3.2v3.2h-3.2zM305.4 201.2h3.2v3.2h-3.2zM313.4 201.2h3.2v3.2h-3.2zM369.6 201.2h3.2v3.2h-3.2zM377.6 201.2h3.2v3.2h-3.2zM385.7 201.2h3.2v3.2h-3.2zM393.7 201.2h3.2v3.2h-3.2zM401.7 201.2h3.2v3.2h-3.2zM586.4 201.2h3.2v3.2h-3.2zM594.4 201.2h3.2v3.2h-3.2zM602.5 201.2h3.2v3.2h-3.2zM610.5 201.2h3.2v3.2h-3.2zM618.5 201.2h3.2v3.2h-3.2zM626.6 201.2h3.2v3.2h-3.2zM634.6 201.2h3.2v3.2h-3.2zM642.6 201.2h3.2v3.2h-3.2zM650.6 201.2h3.2v3.2h-3.2zM658.7 201.2h3.2v3.2h-3.2zM666.7 201.2h3.2v3.2h-3.2zM674.7 201.2h3.2v3.2h-3.2zM682.8 201.2h3.2v3.2h-3.2zM690.8 201.2h3.2v3.2h-3.2zM698.8 201.2h3.2v3.2h-3.2zM706.9 201.2h3.2v3.2h-3.2zM714.9 201.2h3.2v3.2h-3.2zM722.9 201.2h3.2v3.2h-3.2zM730.9 201.2h3.2v3.2h-3.2zM739.0 201.2h3.2v3.2h-3.2zM747.0 201.2h3.2v3.2h-3.2zM755.0 201.2h3.2v3.2h-3.2zM763.1 201.2h3.2v3.2h-3.2zM771.1 201.2h3.2v3.2h-3.2zM779.1 201.2h3.2v3.2h-3.2zM787.2 201.2h3.2v3.2h-3.2zM795.2 201.2h3.2v3.2h-3.2zM803.2 201.2h3.2v3.2h-3.2zM811.2 201.2h3.2v3.2h-3.2zM819.3 201.2h3.2v3.2h-3.2zM827.3 201.2h3.2v3.2h-3.2zM835.3 201.2h3.2v3.2h-3.2zM843.4 201.2h3.2v3.2h-3.2zM851.4 201.2h3.2v3.2h-3.2zM859.4 201.2h3.2v3.2h-3.2zM867.5 201.2h3.2v3.2h-3.2zM875.5 201.2h3.2v3.2h-3.2zM883.5 201.2h3.2v3.2h-3.2zM891.5 201.2h3.2v3.2h-3.2zM899.6 201.2h3.2v3.2h-3.2zM907.6 201.2h3.2v3.2h-3.2zM915.6 201.2h3.2v3.2h-3.2zM923.7 201.2h3.2v3.2h-3.2zM931.7 201.2h3.2v3.2h-3.2zM939.7 201.2h3.2v3.2h-3.2zM947.8 201.2h3.2v3.2h-3.2zM987.9 201.2h3.2v3.2h-3.2zM995.9 201.2h3.2v3.2h-3.2zM1004.0 201.2h3.2v3.2h-3.2zM217.0 209.2h3.2v3.2h-3.2zM225.1 209.2h3.2v3.2h-3.2zM233.1 209.2h3.2v3.2h-3.2zM241.1 209.2h3.2v3.2h-3.2zM249.2 209.2h3.2v3.2h-3.2zM257.2 209.2h3.2v3.2h-3.2zM265.2 209.2h3.2v3.2h-3.2zM273.2 209.2h3.2v3.2h-3.2zM281.3 209.2h3.2v3.2h-3.2zM289.3 209.2h3.2v3.2h-3.2zM297.3 209.2h3.2v3.2h-3.2zM305.4 209.2h3.2v3.2h-3.2zM313.4 209.2h3.2v3.2h-3.2zM321.4 209.2h3.2v3.2h-3.2zM329.4 209.2h3.2v3.2h-3.2zM337.5 209.2h3.2v3.2h-3.2zM369.6 209.2h3.2v3.2h-3.2zM377.6 209.2h3.2v3.2h-3.2zM385.7 209.2h3.2v3.2h-3.2zM393.7 209.2h3.2v3.2h-3.2zM401.7 209.2h3.2v3.2h-3.2zM409.7 209.2h3.2v3.2h-3.2zM562.3 209.2h3.2v3.2h-3.2zM602.5 209.2h3.2v3.2h-3.2zM610.5 209.2h3.2v3.2h-3.2zM618.5 209.2h3.2v3.2h-3.2zM626.6 209.2h3.2v3.2h-3.2zM634.6 209.2h3.2v3.2h-3.2zM642.6 209.2h3.2v3.2h-3.2zM650.6 209.2h3.2v3.2h-3.2zM658.7 209.2h3.2v3.2h-3.2zM666.7 209.2h3.2v3.2h-3.2zM674.7 209.2h3.2v3.2h-3.2zM682.8 209.2h3.2v3.2h-3.2zM690.8 209.2h3.2v3.2h-3.2zM698.8 209.2h3.2v3.2h-3.2zM706.9 209.2h3.2v3.2h-3.2zM714.9 209.2h3.2v3.2h-3.2zM722.9 209.2h3.2v3.2h-3.2zM730.9 209.2h3.2v3.2h-3.2zM739.0 209.2h3.2v3.2h-3.2zM747.0 209.2h3.2v3.2h-3.2zM755.0 209.2h3.2v3.2h-3.2zM763.1 209.2h3.2v3.2h-3.2zM771.1 209.2h3.2v3.2h-3.2zM779.1 209.2h3.2v3.2h-3.2zM787.2 209.2h3.2v3.2h-3.2zM795.2 209.2h3.2v3.2h-3.2zM803.2 209.2h3.2v3.2h-3.2zM811.2 209.2h3.2v3.2h-3.2zM819.3 209.2h3.2v3.2h-3.2zM827.3 209.2h3.2v3.2h-3.2zM835.3 209.2h3.2v3.2h-3.2zM843.4 209.2h3.2v3.2h-3.2zM851.4 209.2h3.2v3.2h-3.2zM859.4 209.2h3.2v3.2h-3.2zM867.5 209.2h3.2v3.2h-3.2zM875.5 209.2h3.2v3.2h-3.2zM883.5 209.2h3.2v3.2h-3.2zM891.5 209.2h3.2v3.2h-3.2zM899.6 209.2h3.2v3.2h-3.2zM907.6 209.2h3.2v3.2h-3.2zM915.6 209.2h3.2v3.2h-3.2zM923.7 209.2h3.2v3.2h-3.2zM931.7 209.2h3.2v3.2h-3.2zM995.9 209.2h3.2v3.2h-3.2zM225.1 217.3h3.2v3.2h-3.2zM233.1 217.3h3.2v3.2h-3.2zM241.1 217.3h3.2v3.2h-3.2zM249.2 217.3h3.2v3.2h-3.2zM257.2 217.3h3.2v3.2h-3.2zM265.2 217.3h3.2v3.2h-3.2zM273.2 217.3h3.2v3.2h-3.2zM281.3 217.3h3.2v3.2h-3.2zM289.3 217.3h3.2v3.2h-3.2zM297.3 217.3h3.2v3.2h-3.2zM305.4 217.3h3.2v3.2h-3.2zM313.4 217.3h3.2v3.2h-3.2zM321.4 217.3h3.2v3.2h-3.2zM329.4 217.3h3.2v3.2h-3.2zM337.5 217.3h3.2v3.2h-3.2zM345.5 217.3h3.2v3.2h-3.2zM353.5 217.3h3.2v3.2h-3.2zM361.6 217.3h3.2v3.2h-3.2zM369.6 217.3h3.2v3.2h-3.2zM377.6 217.3h3.2v3.2h-3.2zM385.7 217.3h3.2v3.2h-3.2zM393.7 217.3h3.2v3.2h-3.2zM401.7 217.3h3.2v3.2h-3.2zM409.7 217.3h3.2v3.2h-3.2zM417.8 217.3h3.2v3.2h-3.2zM554.3 217.3h3.2v3.2h-3.2zM562.3 217.3h3.2v3.2h-3.2zM570.4 217.3h3.2v3.2h-3.2zM586.4 217.3h3.2v3.2h-3.2zM594.4 217.3h3.2v3.2h-3.2zM602.5 217.3h3.2v3.2h-3.2zM610.5 217.3h3.2v3.2h-3.2zM618.5 217.3h3.2v3.2h-3.2zM626.6 217.3h3.2v3.2h-3.2zM634.6 217.3h3.2v3.2h-3.2zM642.6 217.3h3.2v3.2h-3.2zM650.6 217.3h3.2v3.2h-3.2zM658.7 217.3h3.2v3.2h-3.2zM666.7 217.3h3.2v3.2h-3.2zM674.7 217.3h3.2v3.2h-3.2zM682.8 217.3h3.2v3.2h-3.2zM690.8 217.3h3.2v3.2h-3.2zM698.8 217.3h3.2v3.2h-3.2zM706.9 217.3h3.2v3.2h-3.2zM714.9 217.3h3.2v3.2h-3.2zM722.9 217.3h3.2v3.2h-3.2zM730.9 217.3h3.2v3.2h-3.2zM739.0 217.3h3.2v3.2h-3.2zM747.0 217.3h3.2v3.2h-3.2zM755.0 217.3h3.2v3.2h-3.2zM763.1 217.3h3.2v3.2h-3.2zM771.1 217.3h3.2v3.2h-3.2zM779.1 217.3h3.2v3.2h-3.2zM787.2 217.3h3.2v3.2h-3.2zM795.2 217.3h3.2v3.2h-3.2zM803.2 217.3h3.2v3.2h-3.2zM811.2 217.3h3.2v3.2h-3.2zM819.3 217.3h3.2v3.2h-3.2zM827.3 217.3h3.2v3.2h-3.2zM835.3 217.3h3.2v3.2h-3.2zM843.4 217.3h3.2v3.2h-3.2zM851.4 217.3h3.2v3.2h-3.2zM859.4 217.3h3.2v3.2h-3.2zM867.5 217.3h3.2v3.2h-3.2zM875.5 217.3h3.2v3.2h-3.2zM883.5 217.3h3.2v3.2h-3.2zM891.5 217.3h3.2v3.2h-3.2zM899.6 217.3h3.2v3.2h-3.2zM907.6 217.3h3.2v3.2h-3.2zM915.6 217.3h3.2v3.2h-3.2zM923.7 217.3h3.2v3.2h-3.2zM931.7 217.3h3.2v3.2h-3.2zM939.7 217.3h3.2v3.2h-3.2zM995.9 217.3h3.2v3.2h-3.2zM233.1 225.3h3.2v3.2h-3.2zM241.1 225.3h3.2v3.2h-3.2zM249.2 225.3h3.2v3.2h-3.2zM257.2 225.3h3.2v3.2h-3.2zM265.2 225.3h3.2v3.2h-3.2zM273.2 225.3h3.2v3.2h-3.2zM281.3 225.3h3.2v3.2h-3.2zM289.3 225.3h3.2v3.2h-3.2zM297.3 225.3h3.2v3.2h-3.2zM305.4 225.3h3.2v3.2h-3.2zM313.4 225.3h3.2v3.2h-3.2zM321.4 225.3h3.2v3.2h-3.2zM329.4 225.3h3.2v3.2h-3.2zM337.5 225.3h3.2v3.2h-3.2zM345.5 225.3h3.2v3.2h-3.2zM353.5 225.3h3.2v3.2h-3.2zM361.6 225.3h3.2v3.2h-3.2zM369.6 225.3h3.2v3.2h-3.2zM377.6 225.3h3.2v3.2h-3.2zM385.7 225.3h3.2v3.2h-3.2zM393.7 225.3h3.2v3.2h-3.2zM401.7 225.3h3.2v3.2h-3.2zM409.7 225.3h3.2v3.2h-3.2zM578.4 225.3h3.2v3.2h-3.2zM586.4 225.3h3.2v3.2h-3.2zM594.4 225.3h3.2v3.2h-3.2zM602.5 225.3h3.2v3.2h-3.2zM610.5 225.3h3.2v3.2h-3.2zM618.5 225.3h3.2v3.2h-3.2zM626.6 225.3h3.2v3.2h-3.2zM634.6 225.3h3.2v3.2h-3.2zM642.6 225.3h3.2v3.2h-3.2zM650.6 225.3h3.2v3.2h-3.2zM658.7 225.3h3.2v3.2h-3.2zM666.7 225.3h3.2v3.2h-3.2zM674.7 225.3h3.2v3.2h-3.2zM682.8 225.3h3.2v3.2h-3.2zM690.8 225.3h3.2v3.2h-3.2zM698.8 225.3h3.2v3.2h-3.2zM706.9 225.3h3.2v3.2h-3.2zM714.9 225.3h3.2v3.2h-3.2zM722.9 225.3h3.2v3.2h-3.2zM730.9 225.3h3.2v3.2h-3.2zM739.0 225.3h3.2v3.2h-3.2zM747.0 225.3h3.2v3.2h-3.2zM755.0 225.3h3.2v3.2h-3.2zM763.1 225.3h3.2v3.2h-3.2zM771.1 225.3h3.2v3.2h-3.2zM779.1 225.3h3.2v3.2h-3.2zM787.2 225.3h3.2v3.2h-3.2zM795.2 225.3h3.2v3.2h-3.2zM803.2 225.3h3.2v3.2h-3.2zM811.2 225.3h3.2v3.2h-3.2zM819.3 225.3h3.2v3.2h-3.2zM827.3 225.3h3.2v3.2h-3.2zM835.3 225.3h3.2v3.2h-3.2zM843.4 225.3h3.2v3.2h-3.2zM851.4 225.3h3.2v3.2h-3.2zM859.4 225.3h3.2v3.2h-3.2zM867.5 225.3h3.2v3.2h-3.2zM875.5 225.3h3.2v3.2h-3.2zM883.5 225.3h3.2v3.2h-3.2zM891.5 225.3h3.2v3.2h-3.2zM899.6 225.3h3.2v3.2h-3.2zM907.6 225.3h3.2v3.2h-3.2zM915.6 225.3h3.2v3.2h-3.2zM923.7 225.3h3.2v3.2h-3.2zM931.7 225.3h3.2v3.2h-3.2zM939.7 225.3h3.2v3.2h-3.2zM947.8 225.3h3.2v3.2h-3.2zM241.1 233.4h3.2v3.2h-3.2zM249.2 233.4h3.2v3.2h-3.2zM257.2 233.4h3.2v3.2h-3.2zM265.2 233.4h3.2v3.2h-3.2zM273.2 233.4h3.2v3.2h-3.2zM281.3 233.4h3.2v3.2h-3.2zM289.3 233.4h3.2v3.2h-3.2zM297.3 233.4h3.2v3.2h-3.2zM305.4 233.4h3.2v3.2h-3.2zM313.4 233.4h3.2v3.2h-3.2zM321.4 233.4h3.2v3.2h-3.2zM329.4 233.4h3.2v3.2h-3.2zM337.5 233.4h3.2v3.2h-3.2zM345.5 233.4h3.2v3.2h-3.2zM353.5 233.4h3.2v3.2h-3.2zM361.6 233.4h3.2v3.2h-3.2zM369.6 233.4h3.2v3.2h-3.2zM377.6 233.4h3.2v3.2h-3.2zM385.7 233.4h3.2v3.2h-3.2zM393.7 233.4h3.2v3.2h-3.2zM401.7 233.4h3.2v3.2h-3.2zM409.7 233.4h3.2v3.2h-3.2zM570.4 233.4h3.2v3.2h-3.2zM578.4 233.4h3.2v3.2h-3.2zM586.4 233.4h3.2v3.2h-3.2zM594.4 233.4h3.2v3.2h-3.2zM602.5 233.4h3.2v3.2h-3.2zM610.5 233.4h3.2v3.2h-3.2zM618.5 233.4h3.2v3.2h-3.2zM626.6 233.4h3.2v3.2h-3.2zM634.6 233.4h3.2v3.2h-3.2zM642.6 233.4h3.2v3.2h-3.2zM650.6 233.4h3.2v3.2h-3.2zM658.7 233.4h3.2v3.2h-3.2zM666.7 233.4h3.2v3.2h-3.2zM674.7 233.4h3.2v3.2h-3.2zM682.8 233.4h3.2v3.2h-3.2zM690.8 233.4h3.2v3.2h-3.2zM698.8 233.4h3.2v3.2h-3.2zM706.9 233.4h3.2v3.2h-3.2zM714.9 233.4h3.2v3.2h-3.2zM722.9 233.4h3.2v3.2h-3.2zM730.9 233.4h3.2v3.2h-3.2zM739.0 233.4h3.2v3.2h-3.2zM747.0 233.4h3.2v3.2h-3.2zM755.0 233.4h3.2v3.2h-3.2zM763.1 233.4h3.2v3.2h-3.2zM771.1 233.4h3.2v3.2h-3.2zM779.1 233.4h3.2v3.2h-3.2zM787.2 233.4h3.2v3.2h-3.2zM795.2 233.4h3.2v3.2h-3.2zM803.2 233.4h3.2v3.2h-3.2zM811.2 233.4h3.2v3.2h-3.2zM819.3 233.4h3.2v3.2h-3.2zM827.3 233.4h3.2v3.2h-3.2zM835.3 233.4h3.2v3.2h-3.2zM843.4 233.4h3.2v3.2h-3.2zM851.4 233.4h3.2v3.2h-3.2zM859.4 233.4h3.2v3.2h-3.2zM867.5 233.4h3.2v3.2h-3.2zM875.5 233.4h3.2v3.2h-3.2zM883.5 233.4h3.2v3.2h-3.2zM891.5 233.4h3.2v3.2h-3.2zM899.6 233.4h3.2v3.2h-3.2zM907.6 233.4h3.2v3.2h-3.2zM915.6 233.4h3.2v3.2h-3.2zM923.7 233.4h3.2v3.2h-3.2zM931.7 233.4h3.2v3.2h-3.2zM939.7 233.4h3.2v3.2h-3.2zM241.1 241.5h3.2v3.2h-3.2zM249.2 241.5h3.2v3.2h-3.2zM257.2 241.5h3.2v3.2h-3.2zM265.2 241.5h3.2v3.2h-3.2zM273.2 241.5h3.2v3.2h-3.2zM281.3 241.5h3.2v3.2h-3.2zM289.3 241.5h3.2v3.2h-3.2zM297.3 241.5h3.2v3.2h-3.2zM305.4 241.5h3.2v3.2h-3.2zM313.4 241.5h3.2v3.2h-3.2zM321.4 241.5h3.2v3.2h-3.2zM329.4 241.5h3.2v3.2h-3.2zM337.5 241.5h3.2v3.2h-3.2zM345.5 241.5h3.2v3.2h-3.2zM353.5 241.5h3.2v3.2h-3.2zM361.6 241.5h3.2v3.2h-3.2zM369.6 241.5h3.2v3.2h-3.2zM377.6 241.5h3.2v3.2h-3.2zM385.7 241.5h3.2v3.2h-3.2zM393.7 241.5h3.2v3.2h-3.2zM570.4 241.5h3.2v3.2h-3.2zM578.4 241.5h3.2v3.2h-3.2zM586.4 241.5h3.2v3.2h-3.2zM594.4 241.5h3.2v3.2h-3.2zM610.5 241.5h3.2v3.2h-3.2zM618.5 241.5h3.2v3.2h-3.2zM626.6 241.5h3.2v3.2h-3.2zM634.6 241.5h3.2v3.2h-3.2zM642.6 241.5h3.2v3.2h-3.2zM650.6 241.5h3.2v3.2h-3.2zM658.7 241.5h3.2v3.2h-3.2zM666.7 241.5h3.2v3.2h-3.2zM674.7 241.5h3.2v3.2h-3.2zM682.8 241.5h3.2v3.2h-3.2zM690.8 241.5h3.2v3.2h-3.2zM698.8 241.5h3.2v3.2h-3.2zM706.9 241.5h3.2v3.2h-3.2zM714.9 241.5h3.2v3.2h-3.2zM722.9 241.5h3.2v3.2h-3.2zM730.9 241.5h3.2v3.2h-3.2zM739.0 241.5h3.2v3.2h-3.2zM747.0 241.5h3.2v3.2h-3.2zM755.0 241.5h3.2v3.2h-3.2zM763.1 241.5h3.2v3.2h-3.2zM771.1 241.5h3.2v3.2h-3.2zM779.1 241.5h3.2v3.2h-3.2zM787.2 241.5h3.2v3.2h-3.2zM795.2 241.5h3.2v3.2h-3.2zM803.2 241.5h3.2v3.2h-3.2zM811.2 241.5h3.2v3.2h-3.2zM819.3 241.5h3.2v3.2h-3.2zM827.3 241.5h3.2v3.2h-3.2zM835.3 241.5h3.2v3.2h-3.2zM843.4 241.5h3.2v3.2h-3.2zM851.4 241.5h3.2v3.2h-3.2zM859.4 241.5h3.2v3.2h-3.2zM867.5 241.5h3.2v3.2h-3.2zM875.5 241.5h3.2v3.2h-3.2zM883.5 241.5h3.2v3.2h-3.2zM891.5 241.5h3.2v3.2h-3.2zM899.6 241.5h3.2v3.2h-3.2zM907.6 241.5h3.2v3.2h-3.2zM915.6 241.5h3.2v3.2h-3.2zM923.7 241.5h3.2v3.2h-3.2zM931.7 241.5h3.2v3.2h-3.2zM955.8 241.5h3.2v3.2h-3.2zM241.1 249.5h3.2v3.2h-3.2zM249.2 249.5h3.2v3.2h-3.2zM257.2 249.5h3.2v3.2h-3.2zM265.2 249.5h3.2v3.2h-3.2zM273.2 249.5h3.2v3.2h-3.2zM281.3 249.5h3.2v3.2h-3.2zM289.3 249.5h3.2v3.2h-3.2zM297.3 249.5h3.2v3.2h-3.2zM305.4 249.5h3.2v3.2h-3.2zM313.4 249.5h3.2v3.2h-3.2zM321.4 249.5h3.2v3.2h-3.2zM329.4 249.5h3.2v3.2h-3.2zM337.5 249.5h3.2v3.2h-3.2zM345.5 249.5h3.2v3.2h-3.2zM353.5 249.5h3.2v3.2h-3.2zM361.6 249.5h3.2v3.2h-3.2zM369.6 249.5h3.2v3.2h-3.2zM377.6 249.5h3.2v3.2h-3.2zM554.3 249.5h3.2v3.2h-3.2zM562.3 249.5h3.2v3.2h-3.2zM570.4 249.5h3.2v3.2h-3.2zM618.5 249.5h3.2v3.2h-3.2zM626.6 249.5h3.2v3.2h-3.2zM634.6 249.5h3.2v3.2h-3.2zM642.6 249.5h3.2v3.2h-3.2zM650.6 249.5h3.2v3.2h-3.2zM658.7 249.5h3.2v3.2h-3.2zM666.7 249.5h3.2v3.2h-3.2zM674.7 249.5h3.2v3.2h-3.2zM682.8 249.5h3.2v3.2h-3.2zM690.8 249.5h3.2v3.2h-3.2zM698.8 249.5h3.2v3.2h-3.2zM706.9 249.5h3.2v3.2h-3.2zM714.9 249.5h3.2v3.2h-3.2zM722.9 249.5h3.2v3.2h-3.2zM730.9 249.5h3.2v3.2h-3.2zM739.0 249.5h3.2v3.2h-3.2zM747.0 249.5h3.2v3.2h-3.2zM755.0 249.5h3.2v3.2h-3.2zM763.1 249.5h3.2v3.2h-3.2zM771.1 249.5h3.2v3.2h-3.2zM779.1 249.5h3.2v3.2h-3.2zM787.2 249.5h3.2v3.2h-3.2zM795.2 249.5h3.2v3.2h-3.2zM803.2 249.5h3.2v3.2h-3.2zM811.2 249.5h3.2v3.2h-3.2zM819.3 249.5h3.2v3.2h-3.2zM827.3 249.5h3.2v3.2h-3.2zM835.3 249.5h3.2v3.2h-3.2zM843.4 249.5h3.2v3.2h-3.2zM851.4 249.5h3.2v3.2h-3.2zM859.4 249.5h3.2v3.2h-3.2zM867.5 249.5h3.2v3.2h-3.2zM875.5 249.5h3.2v3.2h-3.2zM883.5 249.5h3.2v3.2h-3.2zM891.5 249.5h3.2v3.2h-3.2zM899.6 249.5h3.2v3.2h-3.2zM907.6 249.5h3.2v3.2h-3.2zM915.6 249.5h3.2v3.2h-3.2zM241.1 257.6h3.2v3.2h-3.2zM249.2 257.6h3.2v3.2h-3.2zM257.2 257.6h3.2v3.2h-3.2zM265.2 257.6h3.2v3.2h-3.2zM273.2 257.6h3.2v3.2h-3.2zM281.3 257.6h3.2v3.2h-3.2zM289.3 257.6h3.2v3.2h-3.2zM297.3 257.6h3.2v3.2h-3.2zM305.4 257.6h3.2v3.2h-3.2zM313.4 257.6h3.2v3.2h-3.2zM321.4 257.6h3.2v3.2h-3.2zM329.4 257.6h3.2v3.2h-3.2zM337.5 257.6h3.2v3.2h-3.2zM345.5 257.6h3.2v3.2h-3.2zM353.5 257.6h3.2v3.2h-3.2zM361.6 257.6h3.2v3.2h-3.2zM369.6 257.6h3.2v3.2h-3.2zM554.3 257.6h3.2v3.2h-3.2zM562.3 257.6h3.2v3.2h-3.2zM570.4 257.6h3.2v3.2h-3.2zM618.5 257.6h3.2v3.2h-3.2zM650.6 257.6h3.2v3.2h-3.2zM658.7 257.6h3.2v3.2h-3.2zM666.7 257.6h3.2v3.2h-3.2zM674.7 257.6h3.2v3.2h-3.2zM682.8 257.6h3.2v3.2h-3.2zM690.8 257.6h3.2v3.2h-3.2zM698.8 257.6h3.2v3.2h-3.2zM706.9 257.6h3.2v3.2h-3.2zM714.9 257.6h3.2v3.2h-3.2zM722.9 257.6h3.2v3.2h-3.2zM730.9 257.6h3.2v3.2h-3.2zM739.0 257.6h3.2v3.2h-3.2zM747.0 257.6h3.2v3.2h-3.2zM755.0 257.6h3.2v3.2h-3.2zM763.1 257.6h3.2v3.2h-3.2zM771.1 257.6h3.2v3.2h-3.2zM779.1 257.6h3.2v3.2h-3.2zM787.2 257.6h3.2v3.2h-3.2zM795.2 257.6h3.2v3.2h-3.2zM803.2 257.6h3.2v3.2h-3.2zM811.2 257.6h3.2v3.2h-3.2zM819.3 257.6h3.2v3.2h-3.2zM827.3 257.6h3.2v3.2h-3.2zM835.3 257.6h3.2v3.2h-3.2zM843.4 257.6h3.2v3.2h-3.2zM851.4 257.6h3.2v3.2h-3.2zM859.4 257.6h3.2v3.2h-3.2zM867.5 257.6h3.2v3.2h-3.2zM875.5 257.6h3.2v3.2h-3.2zM883.5 257.6h3.2v3.2h-3.2zM891.5 257.6h3.2v3.2h-3.2zM907.6 257.6h3.2v3.2h-3.2zM915.6 257.6h3.2v3.2h-3.2zM947.8 257.6h3.2v3.2h-3.2zM249.2 265.6h3.2v3.2h-3.2zM257.2 265.6h3.2v3.2h-3.2zM265.2 265.6h3.2v3.2h-3.2zM273.2 265.6h3.2v3.2h-3.2zM281.3 265.6h3.2v3.2h-3.2zM289.3 265.6h3.2v3.2h-3.2zM297.3 265.6h3.2v3.2h-3.2zM305.4 265.6h3.2v3.2h-3.2zM313.4 265.6h3.2v3.2h-3.2zM321.4 265.6h3.2v3.2h-3.2zM329.4 265.6h3.2v3.2h-3.2zM337.5 265.6h3.2v3.2h-3.2zM345.5 265.6h3.2v3.2h-3.2zM353.5 265.6h3.2v3.2h-3.2zM361.6 265.6h3.2v3.2h-3.2zM570.4 265.6h3.2v3.2h-3.2zM578.4 265.6h3.2v3.2h-3.2zM586.4 265.6h3.2v3.2h-3.2zM594.4 265.6h3.2v3.2h-3.2zM666.7 265.6h3.2v3.2h-3.2zM674.7 265.6h3.2v3.2h-3.2zM682.8 265.6h3.2v3.2h-3.2zM690.8 265.6h3.2v3.2h-3.2zM698.8 265.6h3.2v3.2h-3.2zM706.9 265.6h3.2v3.2h-3.2zM714.9 265.6h3.2v3.2h-3.2zM722.9 265.6h3.2v3.2h-3.2zM730.9 265.6h3.2v3.2h-3.2zM739.0 265.6h3.2v3.2h-3.2zM747.0 265.6h3.2v3.2h-3.2zM755.0 265.6h3.2v3.2h-3.2zM763.1 265.6h3.2v3.2h-3.2zM771.1 265.6h3.2v3.2h-3.2zM779.1 265.6h3.2v3.2h-3.2zM787.2 265.6h3.2v3.2h-3.2zM795.2 265.6h3.2v3.2h-3.2zM803.2 265.6h3.2v3.2h-3.2zM811.2 265.6h3.2v3.2h-3.2zM819.3 265.6h3.2v3.2h-3.2zM827.3 265.6h3.2v3.2h-3.2zM835.3 265.6h3.2v3.2h-3.2zM843.4 265.6h3.2v3.2h-3.2zM851.4 265.6h3.2v3.2h-3.2zM859.4 265.6h3.2v3.2h-3.2zM867.5 265.6h3.2v3.2h-3.2zM875.5 265.6h3.2v3.2h-3.2zM883.5 265.6h3.2v3.2h-3.2zM891.5 265.6h3.2v3.2h-3.2zM939.7 265.6h3.2v3.2h-3.2zM947.8 265.6h3.2v3.2h-3.2zM257.2 273.7h3.2v3.2h-3.2zM265.2 273.7h3.2v3.2h-3.2zM273.2 273.7h3.2v3.2h-3.2zM281.3 273.7h3.2v3.2h-3.2zM289.3 273.7h3.2v3.2h-3.2zM297.3 273.7h3.2v3.2h-3.2zM305.4 273.7h3.2v3.2h-3.2zM313.4 273.7h3.2v3.2h-3.2zM321.4 273.7h3.2v3.2h-3.2zM329.4 273.7h3.2v3.2h-3.2zM337.5 273.7h3.2v3.2h-3.2zM345.5 273.7h3.2v3.2h-3.2zM353.5 273.7h3.2v3.2h-3.2zM554.3 273.7h3.2v3.2h-3.2zM562.3 273.7h3.2v3.2h-3.2zM570.4 273.7h3.2v3.2h-3.2zM578.4 273.7h3.2v3.2h-3.2zM586.4 273.7h3.2v3.2h-3.2zM594.4 273.7h3.2v3.2h-3.2zM602.5 273.7h3.2v3.2h-3.2zM666.7 273.7h3.2v3.2h-3.2zM674.7 273.7h3.2v3.2h-3.2zM682.8 273.7h3.2v3.2h-3.2zM690.8 273.7h3.2v3.2h-3.2zM698.8 273.7h3.2v3.2h-3.2zM706.9 273.7h3.2v3.2h-3.2zM714.9 273.7h3.2v3.2h-3.2zM722.9 273.7h3.2v3.2h-3.2zM730.9 273.7h3.2v3.2h-3.2zM739.0 273.7h3.2v3.2h-3.2zM747.0 273.7h3.2v3.2h-3.2zM755.0 273.7h3.2v3.2h-3.2zM763.1 273.7h3.2v3.2h-3.2zM771.1 273.7h3.2v3.2h-3.2zM779.1 273.7h3.2v3.2h-3.2zM787.2 273.7h3.2v3.2h-3.2zM795.2 273.7h3.2v3.2h-3.2zM803.2 273.7h3.2v3.2h-3.2zM811.2 273.7h3.2v3.2h-3.2zM819.3 273.7h3.2v3.2h-3.2zM827.3 273.7h3.2v3.2h-3.2zM835.3 273.7h3.2v3.2h-3.2zM843.4 273.7h3.2v3.2h-3.2zM851.4 273.7h3.2v3.2h-3.2zM859.4 273.7h3.2v3.2h-3.2zM867.5 273.7h3.2v3.2h-3.2zM875.5 273.7h3.2v3.2h-3.2zM883.5 273.7h3.2v3.2h-3.2zM891.5 273.7h3.2v3.2h-3.2zM265.2 281.8h3.2v3.2h-3.2zM273.2 281.8h3.2v3.2h-3.2zM281.3 281.8h3.2v3.2h-3.2zM289.3 281.8h3.2v3.2h-3.2zM297.3 281.8h3.2v3.2h-3.2zM305.4 281.8h3.2v3.2h-3.2zM313.4 281.8h3.2v3.2h-3.2zM321.4 281.8h3.2v3.2h-3.2zM329.4 281.8h3.2v3.2h-3.2zM337.5 281.8h3.2v3.2h-3.2zM345.5 281.8h3.2v3.2h-3.2zM353.5 281.8h3.2v3.2h-3.2zM546.3 281.8h3.2v3.2h-3.2zM554.3 281.8h3.2v3.2h-3.2zM562.3 281.8h3.2v3.2h-3.2zM570.4 281.8h3.2v3.2h-3.2zM578.4 281.8h3.2v3.2h-3.2zM586.4 281.8h3.2v3.2h-3.2zM594.4 281.8h3.2v3.2h-3.2zM602.5 281.8h3.2v3.2h-3.2zM610.5 281.8h3.2v3.2h-3.2zM618.5 281.8h3.2v3.2h-3.2zM626.6 281.8h3.2v3.2h-3.2zM634.6 281.8h3.2v3.2h-3.2zM642.6 281.8h3.2v3.2h-3.2zM650.6 281.8h3.2v3.2h-3.2zM658.7 281.8h3.2v3.2h-3.2zM666.7 281.8h3.2v3.2h-3.2zM674.7 281.8h3.2v3.2h-3.2zM682.8 281.8h3.2v3.2h-3.2zM690.8 281.8h3.2v3.2h-3.2zM698.8 281.8h3.2v3.2h-3.2zM706.9 281.8h3.2v3.2h-3.2zM714.9 281.8h3.2v3.2h-3.2zM722.9 281.8h3.2v3.2h-3.2zM730.9 281.8h3.2v3.2h-3.2zM739.0 281.8h3.2v3.2h-3.2zM747.0 281.8h3.2v3.2h-3.2zM755.0 281.8h3.2v3.2h-3.2zM763.1 281.8h3.2v3.2h-3.2zM771.1 281.8h3.2v3.2h-3.2zM779.1 281.8h3.2v3.2h-3.2zM787.2 281.8h3.2v3.2h-3.2zM795.2 281.8h3.2v3.2h-3.2zM803.2 281.8h3.2v3.2h-3.2zM811.2 281.8h3.2v3.2h-3.2zM819.3 281.8h3.2v3.2h-3.2zM827.3 281.8h3.2v3.2h-3.2zM835.3 281.8h3.2v3.2h-3.2zM843.4 281.8h3.2v3.2h-3.2zM851.4 281.8h3.2v3.2h-3.2zM859.4 281.8h3.2v3.2h-3.2zM867.5 281.8h3.2v3.2h-3.2zM875.5 281.8h3.2v3.2h-3.2zM883.5 281.8h3.2v3.2h-3.2zM891.5 281.8h3.2v3.2h-3.2zM899.6 281.8h3.2v3.2h-3.2zM273.2 289.8h3.2v3.2h-3.2zM281.3 289.8h3.2v3.2h-3.2zM289.3 289.8h3.2v3.2h-3.2zM297.3 289.8h3.2v3.2h-3.2zM305.4 289.8h3.2v3.2h-3.2zM353.5 289.8h3.2v3.2h-3.2zM538.2 289.8h3.2v3.2h-3.2zM546.3 289.8h3.2v3.2h-3.2zM554.3 289.8h3.2v3.2h-3.2zM562.3 289.8h3.2v3.2h-3.2zM570.4 289.8h3.2v3.2h-3.2zM578.4 289.8h3.2v3.2h-3.2zM586.4 289.8h3.2v3.2h-3.2zM594.4 289.8h3.2v3.2h-3.2zM602.5 289.8h3.2v3.2h-3.2zM610.5 289.8h3.2v3.2h-3.2zM618.5 289.8h3.2v3.2h-3.2zM626.6 289.8h3.2v3.2h-3.2zM634.6 289.8h3.2v3.2h-3.2zM642.6 289.8h3.2v3.2h-3.2zM650.6 289.8h3.2v3.2h-3.2zM658.7 289.8h3.2v3.2h-3.2zM674.7 289.8h3.2v3.2h-3.2zM682.8 289.8h3.2v3.2h-3.2zM690.8 289.8h3.2v3.2h-3.2zM698.8 289.8h3.2v3.2h-3.2zM722.9 289.8h3.2v3.2h-3.2zM730.9 289.8h3.2v3.2h-3.2zM739.0 289.8h3.2v3.2h-3.2zM747.0 289.8h3.2v3.2h-3.2zM755.0 289.8h3.2v3.2h-3.2zM763.1 289.8h3.2v3.2h-3.2zM771.1 289.8h3.2v3.2h-3.2zM779.1 289.8h3.2v3.2h-3.2zM787.2 289.8h3.2v3.2h-3.2zM795.2 289.8h3.2v3.2h-3.2zM803.2 289.8h3.2v3.2h-3.2zM811.2 289.8h3.2v3.2h-3.2zM819.3 289.8h3.2v3.2h-3.2zM827.3 289.8h3.2v3.2h-3.2zM835.3 289.8h3.2v3.2h-3.2zM843.4 289.8h3.2v3.2h-3.2zM851.4 289.8h3.2v3.2h-3.2zM859.4 289.8h3.2v3.2h-3.2zM867.5 289.8h3.2v3.2h-3.2zM875.5 289.8h3.2v3.2h-3.2zM883.5 289.8h3.2v3.2h-3.2zM891.5 289.8h3.2v3.2h-3.2zM273.2 297.9h3.2v3.2h-3.2zM281.3 297.9h3.2v3.2h-3.2zM289.3 297.9h3.2v3.2h-3.2zM297.3 297.9h3.2v3.2h-3.2zM305.4 297.9h3.2v3.2h-3.2zM538.2 297.9h3.2v3.2h-3.2zM546.3 297.9h3.2v3.2h-3.2zM554.3 297.9h3.2v3.2h-3.2zM562.3 297.9h3.2v3.2h-3.2zM570.4 297.9h3.2v3.2h-3.2zM578.4 297.9h3.2v3.2h-3.2zM586.4 297.9h3.2v3.2h-3.2zM594.4 297.9h3.2v3.2h-3.2zM602.5 297.9h3.2v3.2h-3.2zM610.5 297.9h3.2v3.2h-3.2zM618.5 297.9h3.2v3.2h-3.2zM626.6 297.9h3.2v3.2h-3.2zM634.6 297.9h3.2v3.2h-3.2zM642.6 297.9h3.2v3.2h-3.2zM650.6 297.9h3.2v3.2h-3.2zM658.7 297.9h3.2v3.2h-3.2zM674.7 297.9h3.2v3.2h-3.2zM682.8 297.9h3.2v3.2h-3.2zM690.8 297.9h3.2v3.2h-3.2zM698.8 297.9h3.2v3.2h-3.2zM706.9 297.9h3.2v3.2h-3.2zM755.0 297.9h3.2v3.2h-3.2zM763.1 297.9h3.2v3.2h-3.2zM771.1 297.9h3.2v3.2h-3.2zM779.1 297.9h3.2v3.2h-3.2zM787.2 297.9h3.2v3.2h-3.2zM795.2 297.9h3.2v3.2h-3.2zM803.2 297.9h3.2v3.2h-3.2zM811.2 297.9h3.2v3.2h-3.2zM819.3 297.9h3.2v3.2h-3.2zM827.3 297.9h3.2v3.2h-3.2zM835.3 297.9h3.2v3.2h-3.2zM843.4 297.9h3.2v3.2h-3.2zM851.4 297.9h3.2v3.2h-3.2zM859.4 297.9h3.2v3.2h-3.2zM867.5 297.9h3.2v3.2h-3.2zM875.5 297.9h3.2v3.2h-3.2zM883.5 297.9h3.2v3.2h-3.2zM891.5 297.9h3.2v3.2h-3.2zM289.3 305.9h3.2v3.2h-3.2zM297.3 305.9h3.2v3.2h-3.2zM305.4 305.9h3.2v3.2h-3.2zM345.5 305.9h3.2v3.2h-3.2zM353.5 305.9h3.2v3.2h-3.2zM530.2 305.9h3.2v3.2h-3.2zM538.2 305.9h3.2v3.2h-3.2zM546.3 305.9h3.2v3.2h-3.2zM554.3 305.9h3.2v3.2h-3.2zM562.3 305.9h3.2v3.2h-3.2zM570.4 305.9h3.2v3.2h-3.2zM578.4 305.9h3.2v3.2h-3.2zM586.4 305.9h3.2v3.2h-3.2zM594.4 305.9h3.2v3.2h-3.2zM602.5 305.9h3.2v3.2h-3.2zM610.5 305.9h3.2v3.2h-3.2zM618.5 305.9h3.2v3.2h-3.2zM626.6 305.9h3.2v3.2h-3.2zM634.6 305.9h3.2v3.2h-3.2zM642.6 305.9h3.2v3.2h-3.2zM650.6 305.9h3.2v3.2h-3.2zM658.7 305.9h3.2v3.2h-3.2zM666.7 305.9h3.2v3.2h-3.2zM682.8 305.9h3.2v3.2h-3.2zM690.8 305.9h3.2v3.2h-3.2zM698.8 305.9h3.2v3.2h-3.2zM706.9 305.9h3.2v3.2h-3.2zM714.9 305.9h3.2v3.2h-3.2zM722.9 305.9h3.2v3.2h-3.2zM730.9 305.9h3.2v3.2h-3.2zM763.1 305.9h3.2v3.2h-3.2zM771.1 305.9h3.2v3.2h-3.2zM779.1 305.9h3.2v3.2h-3.2zM787.2 305.9h3.2v3.2h-3.2zM795.2 305.9h3.2v3.2h-3.2zM803.2 305.9h3.2v3.2h-3.2zM827.3 305.9h3.2v3.2h-3.2zM835.3 305.9h3.2v3.2h-3.2zM843.4 305.9h3.2v3.2h-3.2zM851.4 305.9h3.2v3.2h-3.2zM859.4 305.9h3.2v3.2h-3.2zM867.5 305.9h3.2v3.2h-3.2zM875.5 305.9h3.2v3.2h-3.2zM297.3 314.0h3.2v3.2h-3.2zM305.4 314.0h3.2v3.2h-3.2zM313.4 314.0h3.2v3.2h-3.2zM329.4 314.0h3.2v3.2h-3.2zM530.2 314.0h3.2v3.2h-3.2zM538.2 314.0h3.2v3.2h-3.2zM546.3 314.0h3.2v3.2h-3.2zM554.3 314.0h3.2v3.2h-3.2zM562.3 314.0h3.2v3.2h-3.2zM570.4 314.0h3.2v3.2h-3.2zM578.4 314.0h3.2v3.2h-3.2zM586.4 314.0h3.2v3.2h-3.2zM594.4 314.0h3.2v3.2h-3.2zM602.5 314.0h3.2v3.2h-3.2zM610.5 314.0h3.2v3.2h-3.2zM618.5 314.0h3.2v3.2h-3.2zM626.6 314.0h3.2v3.2h-3.2zM634.6 314.0h3.2v3.2h-3.2zM642.6 314.0h3.2v3.2h-3.2zM650.6 314.0h3.2v3.2h-3.2zM658.7 314.0h3.2v3.2h-3.2zM666.7 314.0h3.2v3.2h-3.2zM682.8 314.0h3.2v3.2h-3.2zM690.8 314.0h3.2v3.2h-3.2zM698.8 314.0h3.2v3.2h-3.2zM706.9 314.0h3.2v3.2h-3.2zM714.9 314.0h3.2v3.2h-3.2zM722.9 314.0h3.2v3.2h-3.2zM771.1 314.0h3.2v3.2h-3.2zM779.1 314.0h3.2v3.2h-3.2zM787.2 314.0h3.2v3.2h-3.2zM795.2 314.0h3.2v3.2h-3.2zM827.3 314.0h3.2v3.2h-3.2zM835.3 314.0h3.2v3.2h-3.2zM843.4 314.0h3.2v3.2h-3.2zM851.4 314.0h3.2v3.2h-3.2zM859.4 314.0h3.2v3.2h-3.2zM321.4 322.1h3.2v3.2h-3.2zM329.4 322.1h3.2v3.2h-3.2zM530.2 322.1h3.2v3.2h-3.2zM538.2 322.1h3.2v3.2h-3.2zM546.3 322.1h3.2v3.2h-3.2zM554.3 322.1h3.2v3.2h-3.2zM562.3 322.1h3.2v3.2h-3.2zM570.4 322.1h3.2v3.2h-3.2zM578.4 322.1h3.2v3.2h-3.2zM586.4 322.1h3.2v3.2h-3.2zM594.4 322.1h3.2v3.2h-3.2zM602.5 322.1h3.2v3.2h-3.2zM610.5 322.1h3.2v3.2h-3.2zM618.5 322.1h3.2v3.2h-3.2zM626.6 322.1h3.2v3.2h-3.2zM634.6 322.1h3.2v3.2h-3.2zM642.6 322.1h3.2v3.2h-3.2zM650.6 322.1h3.2v3.2h-3.2zM658.7 322.1h3.2v3.2h-3.2zM666.7 322.1h3.2v3.2h-3.2zM674.7 322.1h3.2v3.2h-3.2zM690.8 322.1h3.2v3.2h-3.2zM698.8 322.1h3.2v3.2h-3.2zM706.9 322.1h3.2v3.2h-3.2zM714.9 322.1h3.2v3.2h-3.2zM779.1 322.1h3.2v3.2h-3.2zM787.2 322.1h3.2v3.2h-3.2zM835.3 322.1h3.2v3.2h-3.2zM843.4 322.1h3.2v3.2h-3.2zM851.4 322.1h3.2v3.2h-3.2zM859.4 322.1h3.2v3.2h-3.2zM899.6 322.1h3.2v3.2h-3.2zM329.4 330.1h3.2v3.2h-3.2zM337.5 330.1h3.2v3.2h-3.2zM345.5 330.1h3.2v3.2h-3.2zM530.2 330.1h3.2v3.2h-3.2zM538.2 330.1h3.2v3.2h-3.2zM546.3 330.1h3.2v3.2h-3.2zM554.3 330.1h3.2v3.2h-3.2zM562.3 330.1h3.2v3.2h-3.2zM570.4 330.1h3.2v3.2h-3.2zM578.4 330.1h3.2v3.2h-3.2zM586.4 330.1h3.2v3.2h-3.2zM594.4 330.1h3.2v3.2h-3.2zM602.5 330.1h3.2v3.2h-3.2zM610.5 330.1h3.2v3.2h-3.2zM618.5 330.1h3.2v3.2h-3.2zM626.6 330.1h3.2v3.2h-3.2zM634.6 330.1h3.2v3.2h-3.2zM642.6 330.1h3.2v3.2h-3.2zM650.6 330.1h3.2v3.2h-3.2zM658.7 330.1h3.2v3.2h-3.2zM666.7 330.1h3.2v3.2h-3.2zM674.7 330.1h3.2v3.2h-3.2zM682.8 330.1h3.2v3.2h-3.2zM690.8 330.1h3.2v3.2h-3.2zM779.1 330.1h3.2v3.2h-3.2zM843.4 330.1h3.2v3.2h-3.2zM851.4 330.1h3.2v3.2h-3.2zM859.4 330.1h3.2v3.2h-3.2zM899.6 330.1h3.2v3.2h-3.2zM345.5 338.2h3.2v3.2h-3.2zM369.6 338.2h3.2v3.2h-3.2zM377.6 338.2h3.2v3.2h-3.2zM385.7 338.2h3.2v3.2h-3.2zM393.7 338.2h3.2v3.2h-3.2zM538.2 338.2h3.2v3.2h-3.2zM546.3 338.2h3.2v3.2h-3.2zM554.3 338.2h3.2v3.2h-3.2zM562.3 338.2h3.2v3.2h-3.2zM570.4 338.2h3.2v3.2h-3.2zM578.4 338.2h3.2v3.2h-3.2zM586.4 338.2h3.2v3.2h-3.2zM594.4 338.2h3.2v3.2h-3.2zM602.5 338.2h3.2v3.2h-3.2zM610.5 338.2h3.2v3.2h-3.2zM618.5 338.2h3.2v3.2h-3.2zM626.6 338.2h3.2v3.2h-3.2zM634.6 338.2h3.2v3.2h-3.2zM642.6 338.2h3.2v3.2h-3.2zM650.6 338.2h3.2v3.2h-3.2zM658.7 338.2h3.2v3.2h-3.2zM666.7 338.2h3.2v3.2h-3.2zM674.7 338.2h3.2v3.2h-3.2zM682.8 338.2h3.2v3.2h-3.2zM690.8 338.2h3.2v3.2h-3.2zM698.8 338.2h3.2v3.2h-3.2zM706.9 338.2h3.2v3.2h-3.2zM779.1 338.2h3.2v3.2h-3.2zM851.4 338.2h3.2v3.2h-3.2zM859.4 338.2h3.2v3.2h-3.2zM899.6 338.2h3.2v3.2h-3.2zM361.6 346.2h3.2v3.2h-3.2zM369.6 346.2h3.2v3.2h-3.2zM377.6 346.2h3.2v3.2h-3.2zM385.7 346.2h3.2v3.2h-3.2zM393.7 346.2h3.2v3.2h-3.2zM401.7 346.2h3.2v3.2h-3.2zM409.7 346.2h3.2v3.2h-3.2zM538.2 346.2h3.2v3.2h-3.2zM546.3 346.2h3.2v3.2h-3.2zM554.3 346.2h3.2v3.2h-3.2zM562.3 346.2h3.2v3.2h-3.2zM570.4 346.2h3.2v3.2h-3.2zM578.4 346.2h3.2v3.2h-3.2zM586.4 346.2h3.2v3.2h-3.2zM594.4 346.2h3.2v3.2h-3.2zM602.5 346.2h3.2v3.2h-3.2zM610.5 346.2h3.2v3.2h-3.2zM618.5 346.2h3.2v3.2h-3.2zM626.6 346.2h3.2v3.2h-3.2zM634.6 346.2h3.2v3.2h-3.2zM642.6 346.2h3.2v3.2h-3.2zM650.6 346.2h3.2v3.2h-3.2zM658.7 346.2h3.2v3.2h-3.2zM666.7 346.2h3.2v3.2h-3.2zM674.7 346.2h3.2v3.2h-3.2zM682.8 346.2h3.2v3.2h-3.2zM690.8 346.2h3.2v3.2h-3.2zM698.8 346.2h3.2v3.2h-3.2zM907.6 346.2h3.2v3.2h-3.2zM369.6 354.3h3.2v3.2h-3.2zM377.6 354.3h3.2v3.2h-3.2zM385.7 354.3h3.2v3.2h-3.2zM393.7 354.3h3.2v3.2h-3.2zM401.7 354.3h3.2v3.2h-3.2zM409.7 354.3h3.2v3.2h-3.2zM417.8 354.3h3.2v3.2h-3.2zM425.8 354.3h3.2v3.2h-3.2zM554.3 354.3h3.2v3.2h-3.2zM562.3 354.3h3.2v3.2h-3.2zM570.4 354.3h3.2v3.2h-3.2zM578.4 354.3h3.2v3.2h-3.2zM586.4 354.3h3.2v3.2h-3.2zM594.4 354.3h3.2v3.2h-3.2zM602.5 354.3h3.2v3.2h-3.2zM610.5 354.3h3.2v3.2h-3.2zM618.5 354.3h3.2v3.2h-3.2zM626.6 354.3h3.2v3.2h-3.2zM634.6 354.3h3.2v3.2h-3.2zM642.6 354.3h3.2v3.2h-3.2zM650.6 354.3h3.2v3.2h-3.2zM658.7 354.3h3.2v3.2h-3.2zM666.7 354.3h3.2v3.2h-3.2zM674.7 354.3h3.2v3.2h-3.2zM682.8 354.3h3.2v3.2h-3.2zM690.8 354.3h3.2v3.2h-3.2zM883.5 354.3h3.2v3.2h-3.2zM891.5 354.3h3.2v3.2h-3.2zM361.6 362.4h3.2v3.2h-3.2zM369.6 362.4h3.2v3.2h-3.2zM377.6 362.4h3.2v3.2h-3.2zM385.7 362.4h3.2v3.2h-3.2zM393.7 362.4h3.2v3.2h-3.2zM401.7 362.4h3.2v3.2h-3.2zM409.7 362.4h3.2v3.2h-3.2zM417.8 362.4h3.2v3.2h-3.2zM425.8 362.4h3.2v3.2h-3.2zM433.8 362.4h3.2v3.2h-3.2zM602.5 362.4h3.2v3.2h-3.2zM610.5 362.4h3.2v3.2h-3.2zM618.5 362.4h3.2v3.2h-3.2zM626.6 362.4h3.2v3.2h-3.2zM634.6 362.4h3.2v3.2h-3.2zM642.6 362.4h3.2v3.2h-3.2zM650.6 362.4h3.2v3.2h-3.2zM658.7 362.4h3.2v3.2h-3.2zM666.7 362.4h3.2v3.2h-3.2zM674.7 362.4h3.2v3.2h-3.2zM682.8 362.4h3.2v3.2h-3.2zM835.3 362.4h3.2v3.2h-3.2zM875.5 362.4h3.2v3.2h-3.2zM883.5 362.4h3.2v3.2h-3.2zM361.6 370.4h3.2v3.2h-3.2zM369.6 370.4h3.2v3.2h-3.2zM377.6 370.4h3.2v3.2h-3.2zM385.7 370.4h3.2v3.2h-3.2zM393.7 370.4h3.2v3.2h-3.2zM401.7 370.4h3.2v3.2h-3.2zM409.7 370.4h3.2v3.2h-3.2zM417.8 370.4h3.2v3.2h-3.2zM425.8 370.4h3.2v3.2h-3.2zM433.8 370.4h3.2v3.2h-3.2zM602.5 370.4h3.2v3.2h-3.2zM610.5 370.4h3.2v3.2h-3.2zM618.5 370.4h3.2v3.2h-3.2zM626.6 370.4h3.2v3.2h-3.2zM634.6 370.4h3.2v3.2h-3.2zM642.6 370.4h3.2v3.2h-3.2zM650.6 370.4h3.2v3.2h-3.2zM658.7 370.4h3.2v3.2h-3.2zM666.7 370.4h3.2v3.2h-3.2zM674.7 370.4h3.2v3.2h-3.2zM682.8 370.4h3.2v3.2h-3.2zM843.4 370.4h3.2v3.2h-3.2zM867.5 370.4h3.2v3.2h-3.2zM875.5 370.4h3.2v3.2h-3.2zM883.5 370.4h3.2v3.2h-3.2zM899.6 370.4h3.2v3.2h-3.2zM361.6 378.5h3.2v3.2h-3.2zM369.6 378.5h3.2v3.2h-3.2zM377.6 378.5h3.2v3.2h-3.2zM385.7 378.5h3.2v3.2h-3.2zM393.7 378.5h3.2v3.2h-3.2zM401.7 378.5h3.2v3.2h-3.2zM409.7 378.5h3.2v3.2h-3.2zM417.8 378.5h3.2v3.2h-3.2zM425.8 378.5h3.2v3.2h-3.2zM433.8 378.5h3.2v3.2h-3.2zM441.9 378.5h3.2v3.2h-3.2zM449.9 378.5h3.2v3.2h-3.2zM457.9 378.5h3.2v3.2h-3.2zM602.5 378.5h3.2v3.2h-3.2zM610.5 378.5h3.2v3.2h-3.2zM618.5 378.5h3.2v3.2h-3.2zM626.6 378.5h3.2v3.2h-3.2zM634.6 378.5h3.2v3.2h-3.2zM642.6 378.5h3.2v3.2h-3.2zM650.6 378.5h3.2v3.2h-3.2zM658.7 378.5h3.2v3.2h-3.2zM666.7 378.5h3.2v3.2h-3.2zM674.7 378.5h3.2v3.2h-3.2zM875.5 378.5h3.2v3.2h-3.2zM883.5 378.5h3.2v3.2h-3.2zM899.6 378.5h3.2v3.2h-3.2zM931.7 378.5h3.2v3.2h-3.2zM939.7 378.5h3.2v3.2h-3.2zM947.8 378.5h3.2v3.2h-3.2zM361.6 386.5h3.2v3.2h-3.2zM369.6 386.5h3.2v3.2h-3.2zM377.6 386.5h3.2v3.2h-3.2zM385.7 386.5h3.2v3.2h-3.2zM393.7 386.5h3.2v3.2h-3.2zM401.7 386.5h3.2v3.2h-3.2zM409.7 386.5h3.2v3.2h-3.2zM417.8 386.5h3.2v3.2h-3.2zM425.8 386.5h3.2v3.2h-3.2zM433.8 386.5h3.2v3.2h-3.2zM441.9 386.5h3.2v3.2h-3.2zM449.9 386.5h3.2v3.2h-3.2zM457.9 386.5h3.2v3.2h-3.2zM466.0 386.5h3.2v3.2h-3.2zM474.0 386.5h3.2v3.2h-3.2zM610.5 386.5h3.2v3.2h-3.2zM618.5 386.5h3.2v3.2h-3.2zM626.6 386.5h3.2v3.2h-3.2zM634.6 386.5h3.2v3.2h-3.2zM642.6 386.5h3.2v3.2h-3.2zM650.6 386.5h3.2v3.2h-3.2zM658.7 386.5h3.2v3.2h-3.2zM666.7 386.5h3.2v3.2h-3.2zM674.7 386.5h3.2v3.2h-3.2zM939.7 386.5h3.2v3.2h-3.2zM947.8 386.5h3.2v3.2h-3.2zM955.8 386.5h3.2v3.2h-3.2zM361.6 394.6h3.2v3.2h-3.2zM369.6 394.6h3.2v3.2h-3.2zM377.6 394.6h3.2v3.2h-3.2zM385.7 394.6h3.2v3.2h-3.2zM393.7 394.6h3.2v3.2h-3.2zM401.7 394.6h3.2v3.2h-3.2zM409.7 394.6h3.2v3.2h-3.2zM417.8 394.6h3.2v3.2h-3.2zM425.8 394.6h3.2v3.2h-3.2zM433.8 394.6h3.2v3.2h-3.2zM441.9 394.6h3.2v3.2h-3.2zM449.9 394.6h3.2v3.2h-3.2zM457.9 394.6h3.2v3.2h-3.2zM466.0 394.6h3.2v3.2h-3.2zM610.5 394.6h3.2v3.2h-3.2zM618.5 394.6h3.2v3.2h-3.2zM626.6 394.6h3.2v3.2h-3.2zM634.6 394.6h3.2v3.2h-3.2zM642.6 394.6h3.2v3.2h-3.2zM650.6 394.6h3.2v3.2h-3.2zM658.7 394.6h3.2v3.2h-3.2zM666.7 394.6h3.2v3.2h-3.2zM674.7 394.6h3.2v3.2h-3.2zM955.8 394.6h3.2v3.2h-3.2zM963.8 394.6h3.2v3.2h-3.2zM369.6 402.7h3.2v3.2h-3.2zM377.6 402.7h3.2v3.2h-3.2zM385.7 402.7h3.2v3.2h-3.2zM393.7 402.7h3.2v3.2h-3.2zM401.7 402.7h3.2v3.2h-3.2zM409.7 402.7h3.2v3.2h-3.2zM417.8 402.7h3.2v3.2h-3.2zM425.8 402.7h3.2v3.2h-3.2zM433.8 402.7h3.2v3.2h-3.2zM441.9 402.7h3.2v3.2h-3.2zM449.9 402.7h3.2v3.2h-3.2zM457.9 402.7h3.2v3.2h-3.2zM466.0 402.7h3.2v3.2h-3.2zM610.5 402.7h3.2v3.2h-3.2zM618.5 402.7h3.2v3.2h-3.2zM626.6 402.7h3.2v3.2h-3.2zM634.6 402.7h3.2v3.2h-3.2zM642.6 402.7h3.2v3.2h-3.2zM650.6 402.7h3.2v3.2h-3.2zM658.7 402.7h3.2v3.2h-3.2zM666.7 402.7h3.2v3.2h-3.2zM674.7 402.7h3.2v3.2h-3.2zM955.8 402.7h3.2v3.2h-3.2zM369.6 410.7h3.2v3.2h-3.2zM377.6 410.7h3.2v3.2h-3.2zM385.7 410.7h3.2v3.2h-3.2zM393.7 410.7h3.2v3.2h-3.2zM401.7 410.7h3.2v3.2h-3.2zM409.7 410.7h3.2v3.2h-3.2zM417.8 410.7h3.2v3.2h-3.2zM425.8 410.7h3.2v3.2h-3.2zM433.8 410.7h3.2v3.2h-3.2zM441.9 410.7h3.2v3.2h-3.2zM449.9 410.7h3.2v3.2h-3.2zM457.9 410.7h3.2v3.2h-3.2zM466.0 410.7h3.2v3.2h-3.2zM610.5 410.7h3.2v3.2h-3.2zM618.5 410.7h3.2v3.2h-3.2zM626.6 410.7h3.2v3.2h-3.2zM634.6 410.7h3.2v3.2h-3.2zM642.6 410.7h3.2v3.2h-3.2zM650.6 410.7h3.2v3.2h-3.2zM658.7 410.7h3.2v3.2h-3.2zM666.7 410.7h3.2v3.2h-3.2zM674.7 410.7h3.2v3.2h-3.2zM698.8 410.7h3.2v3.2h-3.2zM915.6 410.7h3.2v3.2h-3.2zM923.7 410.7h3.2v3.2h-3.2zM931.7 410.7h3.2v3.2h-3.2zM939.7 410.7h3.2v3.2h-3.2zM955.8 410.7h3.2v3.2h-3.2zM385.7 418.8h3.2v3.2h-3.2zM393.7 418.8h3.2v3.2h-3.2zM401.7 418.8h3.2v3.2h-3.2zM409.7 418.8h3.2v3.2h-3.2zM417.8 418.8h3.2v3.2h-3.2zM425.8 418.8h3.2v3.2h-3.2zM433.8 418.8h3.2v3.2h-3.2zM441.9 418.8h3.2v3.2h-3.2zM449.9 418.8h3.2v3.2h-3.2zM457.9 418.8h3.2v3.2h-3.2zM610.5 418.8h3.2v3.2h-3.2zM618.5 418.8h3.2v3.2h-3.2zM626.6 418.8h3.2v3.2h-3.2zM634.6 418.8h3.2v3.2h-3.2zM642.6 418.8h3.2v3.2h-3.2zM650.6 418.8h3.2v3.2h-3.2zM658.7 418.8h3.2v3.2h-3.2zM666.7 418.8h3.2v3.2h-3.2zM674.7 418.8h3.2v3.2h-3.2zM690.8 418.8h3.2v3.2h-3.2zM698.8 418.8h3.2v3.2h-3.2zM907.6 418.8h3.2v3.2h-3.2zM915.6 418.8h3.2v3.2h-3.2zM923.7 418.8h3.2v3.2h-3.2zM931.7 418.8h3.2v3.2h-3.2zM939.7 418.8h3.2v3.2h-3.2zM947.8 418.8h3.2v3.2h-3.2zM955.8 418.8h3.2v3.2h-3.2zM385.7 426.8h3.2v3.2h-3.2zM393.7 426.8h3.2v3.2h-3.2zM401.7 426.8h3.2v3.2h-3.2zM409.7 426.8h3.2v3.2h-3.2zM417.8 426.8h3.2v3.2h-3.2zM425.8 426.8h3.2v3.2h-3.2zM433.8 426.8h3.2v3.2h-3.2zM441.9 426.8h3.2v3.2h-3.2zM449.9 426.8h3.2v3.2h-3.2zM457.9 426.8h3.2v3.2h-3.2zM610.5 426.8h3.2v3.2h-3.2zM618.5 426.8h3.2v3.2h-3.2zM626.6 426.8h3.2v3.2h-3.2zM634.6 426.8h3.2v3.2h-3.2zM642.6 426.8h3.2v3.2h-3.2zM650.6 426.8h3.2v3.2h-3.2zM658.7 426.8h3.2v3.2h-3.2zM666.7 426.8h3.2v3.2h-3.2zM690.8 426.8h3.2v3.2h-3.2zM698.8 426.8h3.2v3.2h-3.2zM891.5 426.8h3.2v3.2h-3.2zM899.6 426.8h3.2v3.2h-3.2zM907.6 426.8h3.2v3.2h-3.2zM915.6 426.8h3.2v3.2h-3.2zM923.7 426.8h3.2v3.2h-3.2zM931.7 426.8h3.2v3.2h-3.2zM939.7 426.8h3.2v3.2h-3.2zM947.8 426.8h3.2v3.2h-3.2zM955.8 426.8h3.2v3.2h-3.2zM963.8 426.8h3.2v3.2h-3.2zM385.7 434.9h3.2v3.2h-3.2zM393.7 434.9h3.2v3.2h-3.2zM401.7 434.9h3.2v3.2h-3.2zM409.7 434.9h3.2v3.2h-3.2zM417.8 434.9h3.2v3.2h-3.2zM425.8 434.9h3.2v3.2h-3.2zM433.8 434.9h3.2v3.2h-3.2zM441.9 434.9h3.2v3.2h-3.2zM449.9 434.9h3.2v3.2h-3.2zM457.9 434.9h3.2v3.2h-3.2zM610.5 434.9h3.2v3.2h-3.2zM618.5 434.9h3.2v3.2h-3.2zM626.6 434.9h3.2v3.2h-3.2zM634.6 434.9h3.2v3.2h-3.2zM642.6 434.9h3.2v3.2h-3.2zM650.6 434.9h3.2v3.2h-3.2zM658.7 434.9h3.2v3.2h-3.2zM666.7 434.9h3.2v3.2h-3.2zM690.8 434.9h3.2v3.2h-3.2zM698.8 434.9h3.2v3.2h-3.2zM883.5 434.9h3.2v3.2h-3.2zM891.5 434.9h3.2v3.2h-3.2zM899.6 434.9h3.2v3.2h-3.2zM907.6 434.9h3.2v3.2h-3.2zM915.6 434.9h3.2v3.2h-3.2zM923.7 434.9h3.2v3.2h-3.2zM931.7 434.9h3.2v3.2h-3.2zM939.7 434.9h3.2v3.2h-3.2zM947.8 434.9h3.2v3.2h-3.2zM955.8 434.9h3.2v3.2h-3.2zM963.8 434.9h3.2v3.2h-3.2zM971.9 434.9h3.2v3.2h-3.2zM385.7 443.0h3.2v3.2h-3.2zM393.7 443.0h3.2v3.2h-3.2zM401.7 443.0h3.2v3.2h-3.2zM409.7 443.0h3.2v3.2h-3.2zM417.8 443.0h3.2v3.2h-3.2zM425.8 443.0h3.2v3.2h-3.2zM433.8 443.0h3.2v3.2h-3.2zM441.9 443.0h3.2v3.2h-3.2zM618.5 443.0h3.2v3.2h-3.2zM626.6 443.0h3.2v3.2h-3.2zM634.6 443.0h3.2v3.2h-3.2zM642.6 443.0h3.2v3.2h-3.2zM650.6 443.0h3.2v3.2h-3.2zM658.7 443.0h3.2v3.2h-3.2zM883.5 443.0h3.2v3.2h-3.2zM891.5 443.0h3.2v3.2h-3.2zM899.6 443.0h3.2v3.2h-3.2zM907.6 443.0h3.2v3.2h-3.2zM915.6 443.0h3.2v3.2h-3.2zM923.7 443.0h3.2v3.2h-3.2zM931.7 443.0h3.2v3.2h-3.2zM939.7 443.0h3.2v3.2h-3.2zM947.8 443.0h3.2v3.2h-3.2zM955.8 443.0h3.2v3.2h-3.2zM963.8 443.0h3.2v3.2h-3.2zM971.9 443.0h3.2v3.2h-3.2zM979.9 443.0h3.2v3.2h-3.2zM385.7 451.0h3.2v3.2h-3.2zM393.7 451.0h3.2v3.2h-3.2zM401.7 451.0h3.2v3.2h-3.2zM409.7 451.0h3.2v3.2h-3.2zM417.8 451.0h3.2v3.2h-3.2zM425.8 451.0h3.2v3.2h-3.2zM433.8 451.0h3.2v3.2h-3.2zM618.5 451.0h3.2v3.2h-3.2zM626.6 451.0h3.2v3.2h-3.2zM634.6 451.0h3.2v3.2h-3.2zM642.6 451.0h3.2v3.2h-3.2zM650.6 451.0h3.2v3.2h-3.2zM658.7 451.0h3.2v3.2h-3.2zM883.5 451.0h3.2v3.2h-3.2zM891.5 451.0h3.2v3.2h-3.2zM899.6 451.0h3.2v3.2h-3.2zM907.6 451.0h3.2v3.2h-3.2zM915.6 451.0h3.2v3.2h-3.2zM923.7 451.0h3.2v3.2h-3.2zM931.7 451.0h3.2v3.2h-3.2zM939.7 451.0h3.2v3.2h-3.2zM947.8 451.0h3.2v3.2h-3.2zM955.8 451.0h3.2v3.2h-3.2zM963.8 451.0h3.2v3.2h-3.2zM971.9 451.0h3.2v3.2h-3.2zM979.9 451.0h3.2v3.2h-3.2zM385.7 459.1h3.2v3.2h-3.2zM393.7 459.1h3.2v3.2h-3.2zM401.7 459.1h3.2v3.2h-3.2zM409.7 459.1h3.2v3.2h-3.2zM417.8 459.1h3.2v3.2h-3.2zM425.8 459.1h3.2v3.2h-3.2zM433.8 459.1h3.2v3.2h-3.2zM618.5 459.1h3.2v3.2h-3.2zM626.6 459.1h3.2v3.2h-3.2zM634.6 459.1h3.2v3.2h-3.2zM642.6 459.1h3.2v3.2h-3.2zM883.5 459.1h3.2v3.2h-3.2zM891.5 459.1h3.2v3.2h-3.2zM899.6 459.1h3.2v3.2h-3.2zM907.6 459.1h3.2v3.2h-3.2zM915.6 459.1h3.2v3.2h-3.2zM923.7 459.1h3.2v3.2h-3.2zM931.7 459.1h3.2v3.2h-3.2zM939.7 459.1h3.2v3.2h-3.2zM947.8 459.1h3.2v3.2h-3.2zM955.8 459.1h3.2v3.2h-3.2zM963.8 459.1h3.2v3.2h-3.2zM971.9 459.1h3.2v3.2h-3.2zM979.9 459.1h3.2v3.2h-3.2zM385.7 467.1h3.2v3.2h-3.2zM393.7 467.1h3.2v3.2h-3.2zM401.7 467.1h3.2v3.2h-3.2zM409.7 467.1h3.2v3.2h-3.2zM417.8 467.1h3.2v3.2h-3.2zM425.8 467.1h3.2v3.2h-3.2zM626.6 467.1h3.2v3.2h-3.2zM634.6 467.1h3.2v3.2h-3.2zM883.5 467.1h3.2v3.2h-3.2zM891.5 467.1h3.2v3.2h-3.2zM899.6 467.1h3.2v3.2h-3.2zM931.7 467.1h3.2v3.2h-3.2zM939.7 467.1h3.2v3.2h-3.2zM947.8 467.1h3.2v3.2h-3.2zM955.8 467.1h3.2v3.2h-3.2zM963.8 467.1h3.2v3.2h-3.2zM971.9 467.1h3.2v3.2h-3.2zM979.9 467.1h3.2v3.2h-3.2zM385.7 475.2h3.2v3.2h-3.2zM393.7 475.2h3.2v3.2h-3.2zM401.7 475.2h3.2v3.2h-3.2zM409.7 475.2h3.2v3.2h-3.2zM417.8 475.2h3.2v3.2h-3.2zM947.8 475.2h3.2v3.2h-3.2zM955.8 475.2h3.2v3.2h-3.2zM963.8 475.2h3.2v3.2h-3.2zM971.9 475.2h3.2v3.2h-3.2zM1036.1 475.2h3.2v3.2h-3.2zM1044.1 475.2h3.2v3.2h-3.2zM377.6 483.3h3.2v3.2h-3.2zM385.7 483.3h3.2v3.2h-3.2zM393.7 483.3h3.2v3.2h-3.2zM401.7 483.3h3.2v3.2h-3.2zM1036.1 483.3h3.2v3.2h-3.2zM1044.1 483.3h3.2v3.2h-3.2zM377.6 491.3h3.2v3.2h-3.2zM385.7 491.3h3.2v3.2h-3.2zM393.7 491.3h3.2v3.2h-3.2zM1036.1 491.3h3.2v3.2h-3.2zM377.6 499.4h3.2v3.2h-3.2zM385.7 499.4h3.2v3.2h-3.2zM1028.1 499.4h3.2v3.2h-3.2zM377.6 507.4h3.2v3.2h-3.2zM385.7 507.4h3.2v3.2h-3.2zM377.6 515.5h3.2v3.2h-3.2zM385.7 515.5h3.2v3.2h-3.2zM377.6 523.6h3.2v3.2h-3.2z"/>
</g>
<!-- diagram box -->
<rect x="267" y="109" width="637" height="386" rx="9" fill="#1e2730" fill-opacity="0.63"/>

<!-- title -->
<text stroke="#a8f7f4" stroke-width="0.45" x="417" y="158" font-size="21.5" font-weight="bold" fill="#a8f7f4" textLength="304" lengthAdjust="spacingAndGlyphs">ETHEREUM VIRTUAL MACHINE</text>
<text stroke="#aef1ed" stroke-width="0.45" x="454.4" y="191" font-size="16.7" font-weight="bold" fill="#aef1ed" textLength="229" lengthAdjust="spacingAndGlyphs">Transaction of message call</text>
<rect x="505.5" y="202.6" width="126.5" height="28.3" fill="none" stroke="#5a8c8f" stroke-width="1.8"/>
<text x="526.3" y="221.3" font-size="16.5" font-weight="bold" fill="#a6f2ee" textLength="83.6" lengthAdjust="spacingAndGlyphs">input data</text>

<!-- world state labels -->
<text stroke="#a6f2ee" stroke-width="0.45" x="354" y="262.2" font-size="17.4" font-weight="bold" fill="#a6f2ee" textLength="92.5" lengthAdjust="spacingAndGlyphs">World state</text>
<text x="450.3" y="262.3" font-size="14.5" fill="#a6f2ee">σ</text>
<text x="463" y="262.5" font-size="9" fill="#a6f2ee">t</text>

<text stroke="#a6f2ee" stroke-width="0.45" x="666.5" y="263" font-size="17.4" font-weight="bold" fill="#a6f2ee" textLength="92.5" lengthAdjust="spacingAndGlyphs">World state</text>
<text x="761.8" y="263" font-size="14.5" fill="#a6f2ee">σ</text>
<text x="775.5" y="263" font-size="9" fill="#a6f2ee" textLength="14.4" lengthAdjust="spacingAndGlyphs">t+1</text>

<!-- connectors -->
<g fill="none" stroke="#70abab" stroke-width="1.5">
  <path d="M498.2,284 V273 Q498.2,258 513.2,258 H624 Q640,258 640,272"/>
  <path d="M637,271.3 L643,271.3 L640,274.6 Z" fill="#70abab" stroke-width="0.8"/>
  <path d="M568.7,231 V406"/>
  <path d="M565.7,404.6 L571.7,404.6 L568.7,408.2 Z" fill="#70abab" stroke-width="0.8"/>
</g>

<!-- world state boxes -->
<rect x="296" y="284" width="228" height="116.3" rx="10.5" fill="none" stroke="#5b8486" stroke-width="2"/>
<rect x="613.8" y="284.8" width="227.3" height="116.3" rx="10.5" fill="none" stroke="#5b8486" stroke-width="2"/>

<g id="ws1">
  <rect x="309.2" y="311" width="68.3" height="21.7" rx="3" fill="none" stroke="#6aa8a6" stroke-width="2"/>
  <text stroke="#94d4d0" stroke-width="0.2" x="312.4" y="326.6" font-size="13.5" fill="#94d4d0" textLength="61" lengthAdjust="spacingAndGlyphs">Address N</text>
  <circle cx="380.5" cy="323.5" r="1.6" fill="#8cc8c5"/>
  <path d="M380.5,323.5 H402.5 M399,320 L402.5,323.5 L399,327" fill="none" stroke="#8cc8c5" stroke-width="1.5"/>
  <rect x="404.4" y="311" width="104" height="22" rx="4" fill="#a6f7f3"/>
  <text stroke="#2a3a3f" stroke-width="0.2" x="408" y="326.6" font-size="13.5" fill="#2a3a3f" textLength="97.3" lengthAdjust="spacingAndGlyphs">Account state N</text>
  <path d="M433.6,334 V349 M485.3,334 V349" stroke="#7ab8b6" stroke-width="1.1" stroke-dasharray="1.6,1.4" fill="none"/>
  <!-- code icon -->
  <path d="M425.5,352.5 H440.7 V366.5 L433.5,374 H425.5 Z" fill="none" stroke="#a6f2ee" stroke-width="2" stroke-linejoin="miter"/>
  <path d="M433.5,374 V366.5 H440.7" fill="none" stroke="#a6f2ee" stroke-width="1.6"/>
  <!-- storage icon -->
  <g fill="none" stroke="#a6f2ee" stroke-width="2">
    <ellipse cx="485.2" cy="356" rx="10.8" ry="3.6"/>
    <path d="M474.4,356 V369.5 A10.8,4 0 0 0 496,369.5 V356"/>
    <path d="M474.4,361 A10.8,3.6 0 0 0 496,361"/>
    <path d="M474.4,365.5 A10.8,3.6 0 0 0 496,365.5"/>
  </g>
  <text stroke="#a0e6e2" stroke-width="0.2" x="417.8" y="389.4" font-size="13.8" fill="#a0e6e2" textLength="31.2" lengthAdjust="spacingAndGlyphs">code</text>
  <text stroke="#a0e6e2" stroke-width="0.2" x="461.9" y="389.4" font-size="13.8" fill="#a0e6e2" textLength="47" lengthAdjust="spacingAndGlyphs">storage</text>
</g>

<g id="ws2">
  <rect x="626.7" y="311.5" width="67.7" height="21.7" rx="3" fill="none" stroke="#6aa8a6" stroke-width="2"/>
  <text stroke="#94d4d0" stroke-width="0.2" x="629.9" y="327" font-size="13.5" fill="#94d4d0" textLength="61" lengthAdjust="spacingAndGlyphs">Address N</text>
  <circle cx="697" cy="323.8" r="1.6" fill="#8cc8c5"/>
  <path d="M697,323.8 H720 M716.5,320.3 L720,323.8 L716.5,327.3" fill="none" stroke="#8cc8c5" stroke-width="1.5"/>
  <rect x="721.8" y="311.3" width="103.7" height="22" rx="4" fill="#a6f7f3"/>
  <text stroke="#2a3a3f" stroke-width="0.2" x="725.4" y="327" font-size="13.5" fill="#2a3a3f" textLength="97.3" lengthAdjust="spacingAndGlyphs">Account state N</text>
  <path d="M750.6,334 V349 M803,334 V349" stroke="#7ab8b6" stroke-width="1.1" stroke-dasharray="1.6,1.4" fill="none"/>
  <path d="M742.5,352.5 H757.7 V366.5 L750.5,374 H742.5 Z" fill="none" stroke="#a6f2ee" stroke-width="2" stroke-linejoin="miter"/>
  <path d="M750.5,374 V366.5 H757.7" fill="none" stroke="#a6f2ee" stroke-width="1.6"/>
  <g fill="none" stroke="#a6f2ee" stroke-width="2">
    <ellipse cx="803" cy="356" rx="10.8" ry="3.6"/>
    <path d="M792.2,356 V369.5 A10.8,4 0 0 0 813.8,369.5 V356"/>
    <path d="M792.2,361 A10.8,3.6 0 0 0 813.8,361"/>
    <path d="M792.2,365.5 A10.8,3.6 0 0 0 813.8,365.5"/>
  </g>
  <text stroke="#a0e6e2" stroke-width="0.2" x="735.3" y="389.4" font-size="13.8" fill="#a0e6e2" textLength="31.2" lengthAdjust="spacingAndGlyphs">code</text>
  <text stroke="#a0e6e2" stroke-width="0.2" x="779.5" y="389.4" font-size="13.8" fill="#a0e6e2" textLength="47" lengthAdjust="spacingAndGlyphs">storage</text>
  <!-- update callout -->
  <rect x="823.2" y="349" width="50.3" height="17.2" fill="#222c35" stroke="#6aa8a6" stroke-width="1.6"/>
  <path d="M823.5,360 L815.8,363.5 L823.5,365.5 Z" fill="#7fbcb9"/>
  <text stroke="#a0e6e2" stroke-width="0.2" x="825.5" y="360.6" font-size="12.5" fill="#a0e6e2" textLength="45" lengthAdjust="spacingAndGlyphs">update</text>
</g>

<!-- EVM arrows -->
<g fill="none" stroke="#6aa3a3" stroke-width="1.6">
  <path d="M443.5,392 L462.5,415.5 M483,391.5 L504.7,416 M689,432 L773,393"/>
  <path d="M459.6,416.9 L464.2,417.2 L464,412.6 Z M501.6,417.3 L506.2,417.6 L506,413 Z M769.6,391.8 L774.6,392.2 L772.4,396.6 Z" fill="#7cb8b6" stroke-width="0.8"/>
</g>

<!-- EVM box -->
<rect x="453.5" y="422.3" width="230.5" height="41" fill="none" stroke="#649597" stroke-width="2"/>
<text x="551.6" y="438.5" font-size="16.5" font-weight="bold" fill="#a6f2ee" textLength="32.4" lengthAdjust="spacingAndGlyphs">EVM</text>
<text x="457" y="457" font-size="15.8" font-weight="bold" fill="#a6f2ee" textLength="221.6" lengthAdjust="spacingAndGlyphs">(Ethereum Virtual Machine)</text>

<!-- logo -->
<g fill="#ffffff">
  <path fill-rule="evenodd" d="M1026,45.5 Q1026,40.8 1030.8,40.8 H1057 C1067.8,40.8 1075.4,49 1075.4,58.8 C1075.4,65.5 1073,70.5 1071.4,74.1 C1074.6,77.6 1076.7,82.8 1076.7,88.8 C1076.7,99.5 1068.5,107.7 1058,107.7 H1030.8 Q1026,107.7 1026,103 V80 A3.9,3.9 0 0 1 1033.8,80 V100.1 H1058 C1064.6,100.1 1069.6,95.2 1069.6,88.8 C1069.6,84.5 1067,81.2 1063.8,79.8 Q1054,84.6 1046,85.4 Q1041.8,85.6 1041.8,81.8 V66.8 Q1041.8,63.1 1046,63.3 Q1054,64 1062.8,69 C1066.3,67 1068.2,63.2 1068.2,58.8 C1068.2,52.6 1063.3,48 1057,48 H1033.8 V56 A3.9,3.9 0 0 1 1026,56 Z M1048.8,71 Q1055,72.2 1059.8,74.4 Q1055,76.6 1048.8,77.8 Z"/>
  <circle cx="1030" cy="69.2" r="4.2"/>
</g>

<!-- social icons -->
<defs>
  <linearGradient id="ig" x1="0" y1="1" x2="1" y2="0">
    <stop offset="0" stop-color="#fdd56a"/>
    <stop offset="0.3" stop-color="#f26a3a"/>
    <stop offset="0.6" stop-color="#d62f7e"/>
    <stop offset="1" stop-color="#8b3ac0"/>
  </linearGradient>
  <linearGradient id="fbg" x1="0" y1="0" x2="0" y2="1">
    <stop offset="0" stop-color="#5677c1"/>
    <stop offset="1" stop-color="#3f5ca3"/>
  </linearGradient>
</defs>
<g>
  <rect x="101.2" y="523" width="22.6" height="22.7" rx="4" fill="#e02a24"/>
  <rect x="104.1" y="528.3" width="16.8" height="11.9" rx="2.8" fill="#fff"/>
  <path d="M110.1,531.7 L115.4,534.35 L110.1,537 Z" fill="#e02a24"/>

  <rect x="126.9" y="522.8" width="22.3" height="23" rx="4" fill="#1d9ff0"/>
  <path fill="#fff" transform="translate(138.2,534.6) scale(1.22) translate(-138,-533.4)" d="M145.7,529.2 c-0.55,0.25 -1.1,0.4 -1.7,0.47 c0.6,-0.37 1.07,-0.95 1.3,-1.63 c-0.57,0.34 -1.2,0.58 -1.87,0.72 c-0.54,-0.58 -1.3,-0.93 -2.15,-0.93 c-1.63,0 -2.95,1.32 -2.95,2.95 c0,0.23 0.03,0.46 0.08,0.67 c-2.45,-0.12 -4.63,-1.3 -6.08,-3.08 c-0.25,0.44 -0.4,0.94 -0.4,1.48 c0,1.02 0.52,1.93 1.31,2.46 c-0.48,-0.02 -0.94,-0.15 -1.34,-0.37 v0.04 c0,1.43 1.02,2.63 2.37,2.9 c-0.25,0.07 -0.51,0.1 -0.78,0.1 c-0.19,0 -0.37,-0.02 -0.55,-0.05 c0.37,1.17 1.46,2.03 2.76,2.05 c-1.01,0.79 -2.29,1.27 -3.67,1.27 c-0.24,0 -0.48,-0.01 -0.71,-0.04 c1.31,0.84 2.86,1.33 4.53,1.33 c5.43,0 8.4,-4.5 8.4,-8.4 l-0.01,-0.38 c0.58,-0.42 1.08,-0.93 1.47,-1.52 z"/>

  <rect x="152" y="522.8" width="22.6" height="23.2" rx="4.5" fill="url(#ig)"/>
  <rect x="156.1" y="526.5" width="15.1" height="15.5" rx="4.3" fill="none" stroke="#fff" stroke-width="1.9"/>
  <circle cx="163.7" cy="534.3" r="3.9" fill="none" stroke="#fff" stroke-width="1.8"/>
  <circle cx="167.9" cy="530.3" r="1.05" fill="#fff"/>

  <rect x="178" y="522.8" width="22.6" height="23.2" rx="4" fill="#0d78b6"/>
  <circle cx="182.8" cy="527.7" r="1.8" fill="#fff"/>
  <rect x="181.2" y="531" width="3.3" height="11.3" fill="#fff"/>
  <path fill="#fff" d="M187.3,531 h3.2 v1.5 c0.5,-0.9 1.6,-1.75 3.2,-1.75 c3,0 3.5,1.9 3.5,4.4 v7.15 h-3.3 v-6.3 c0,-1.3 -0.1,-2.4 -1.5,-2.4 c-1.5,0 -1.8,1.1 -1.8,2.3 v6.4 h-3.3 z"/>

  <rect x="203.7" y="522.8" width="22.2" height="23.2" rx="4" fill="url(#fbg)"/>
  <path fill="#fff" d="M211.5,546 V536.1 H208.8 V532.7 H211.5 V530.6 C211.5,527.9 213,526.6 215.5,526.6 C216.8,526.6 218.3,526.8 219,526.9 V530 H217.3 C216.4,530 216,530.5 216,531.3 V532.7 H218.7 L218.3,536.1 H216 V546 Z"/>
</g>

</svg>
</body></html>
